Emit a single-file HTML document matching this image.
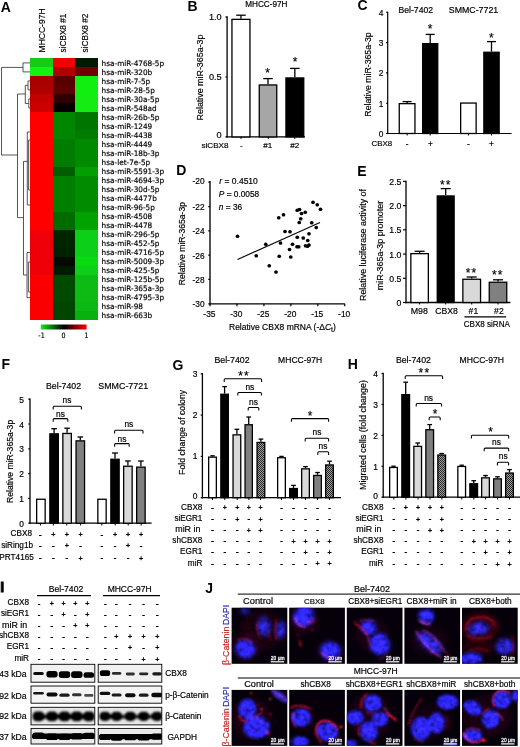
<!DOCTYPE html>
<html lang="en"><head><meta charset="utf-8"><title>Figure: CBX8 regulates miR-365a-3p</title>
<style>html,body{margin:0;padding:0;background:#fff}svg{display:block}text{font-family:"Liberation Sans",sans-serif}</style>
</head><body>
<svg width="520" height="747" viewBox="0 0 520 747">
<defs>
<pattern id="chk" width="2" height="2" patternUnits="userSpaceOnUse"><rect width="2" height="2" fill="#a4a4a4"/><rect width="1" height="1" fill="#222"/><rect x="1" y="1" width="1" height="1" fill="#222"/></pattern>
<linearGradient id="cbar" x1="0" x2="1" y1="0" y2="0"><stop offset="0" stop-color="#18e818"/><stop offset="0.5" stop-color="#000"/><stop offset="1" stop-color="#ff0000"/></linearGradient>
<filter id="b1" x="-30%" y="-30%" width="160%" height="160%"><feGaussianBlur stdDeviation="0.9"/></filter>
<filter id="b15" x="-30%" y="-30%" width="160%" height="160%"><feGaussianBlur stdDeviation="1.5"/></filter>
<filter id="b2" x="-30%" y="-30%" width="160%" height="160%"><feGaussianBlur stdDeviation="2.2"/></filter>
<filter id="b07" x="-30%" y="-30%" width="160%" height="160%"><feGaussianBlur stdDeviation="0.7"/></filter>
<filter id="b06" x="-30%" y="-30%" width="160%" height="160%"><feGaussianBlur stdDeviation="0.6"/></filter>
</defs>
<rect width="520" height="747" fill="#fff"/>
<text font-size="14.00" text-anchor="start" font-weight="bold" transform="translate(0.80 6.80) scale(1.000 1)" y="4.97">A</text>
<g shape-rendering="crispEdges">
<rect x="30.30" y="58.40" width="22.70" height="9.21" fill="#16cc16" />
<rect x="52.80" y="58.40" width="22.70" height="9.21" fill="#f00000" />
<rect x="75.30" y="58.40" width="22.70" height="9.21" fill="#001a00" />
<rect x="30.30" y="67.41" width="22.70" height="9.21" fill="#10f410" />
<rect x="52.80" y="67.41" width="22.70" height="9.21" fill="#b00000" />
<rect x="75.30" y="67.41" width="22.70" height="9.21" fill="#700000" />
<rect x="30.30" y="76.42" width="22.70" height="9.21" fill="#a80000" />
<rect x="52.80" y="76.42" width="22.70" height="9.21" fill="#580000" />
<rect x="75.30" y="76.42" width="22.70" height="9.21" fill="#10f010" />
<rect x="30.30" y="85.43" width="22.70" height="9.21" fill="#ac0000" />
<rect x="52.80" y="85.43" width="22.70" height="9.21" fill="#5e0000" />
<rect x="75.30" y="85.43" width="22.70" height="9.21" fill="#10f010" />
<rect x="30.30" y="94.44" width="22.70" height="9.21" fill="#c40000" />
<rect x="52.80" y="94.44" width="22.70" height="9.21" fill="#2c0000" />
<rect x="75.30" y="94.44" width="22.70" height="9.21" fill="#14ec14" />
<rect x="30.30" y="103.45" width="22.70" height="9.21" fill="#cc0000" />
<rect x="52.80" y="103.45" width="22.70" height="9.21" fill="#060000" />
<rect x="75.30" y="103.45" width="22.70" height="9.21" fill="#14ec14" />
<rect x="30.30" y="112.46" width="22.70" height="9.21" fill="#ff0000" />
<rect x="52.80" y="112.46" width="22.70" height="9.21" fill="#008600" />
<rect x="75.30" y="112.46" width="22.70" height="9.21" fill="#007600" />
<rect x="30.30" y="121.47" width="22.70" height="9.21" fill="#ff0000" />
<rect x="52.80" y="121.47" width="22.70" height="9.21" fill="#008600" />
<rect x="75.30" y="121.47" width="22.70" height="9.21" fill="#007600" />
<rect x="30.30" y="130.48" width="22.70" height="9.21" fill="#ff0000" />
<rect x="52.80" y="130.48" width="22.70" height="9.21" fill="#008600" />
<rect x="75.30" y="130.48" width="22.70" height="9.21" fill="#007c00" />
<rect x="30.30" y="139.49" width="22.70" height="9.21" fill="#ff0000" />
<rect x="52.80" y="139.49" width="22.70" height="9.21" fill="#007c00" />
<rect x="75.30" y="139.49" width="22.70" height="9.21" fill="#008a00" />
<rect x="30.30" y="148.50" width="22.70" height="9.21" fill="#ff0000" />
<rect x="52.80" y="148.50" width="22.70" height="9.21" fill="#007c00" />
<rect x="75.30" y="148.50" width="22.70" height="9.21" fill="#008a00" />
<rect x="30.30" y="157.51" width="22.70" height="9.21" fill="#ff0000" />
<rect x="52.80" y="157.51" width="22.70" height="9.21" fill="#007c00" />
<rect x="75.30" y="157.51" width="22.70" height="9.21" fill="#008a00" />
<rect x="30.30" y="166.52" width="22.70" height="9.21" fill="#ff0000" />
<rect x="52.80" y="166.52" width="22.70" height="9.21" fill="#005e00" />
<rect x="75.30" y="166.52" width="22.70" height="9.21" fill="#00a000" />
<rect x="30.30" y="175.53" width="22.70" height="9.21" fill="#ff0000" />
<rect x="52.80" y="175.53" width="22.70" height="9.21" fill="#007e00" />
<rect x="75.30" y="175.53" width="22.70" height="9.21" fill="#008c00" />
<rect x="30.30" y="184.54" width="22.70" height="9.21" fill="#ff0000" />
<rect x="52.80" y="184.54" width="22.70" height="9.21" fill="#007e00" />
<rect x="75.30" y="184.54" width="22.70" height="9.21" fill="#008c00" />
<rect x="30.30" y="193.56" width="22.70" height="9.21" fill="#ff0000" />
<rect x="52.80" y="193.56" width="22.70" height="9.21" fill="#007e00" />
<rect x="75.30" y="193.56" width="22.70" height="9.21" fill="#008c00" />
<rect x="30.30" y="202.57" width="22.70" height="9.21" fill="#ff0000" />
<rect x="52.80" y="202.57" width="22.70" height="9.21" fill="#007e00" />
<rect x="75.30" y="202.57" width="22.70" height="9.21" fill="#008c00" />
<rect x="30.30" y="211.58" width="22.70" height="9.21" fill="#ff0000" />
<rect x="52.80" y="211.58" width="22.70" height="9.21" fill="#006c00" />
<rect x="75.30" y="211.58" width="22.70" height="9.21" fill="#00a200" />
<rect x="30.30" y="220.59" width="22.70" height="9.21" fill="#ff0000" />
<rect x="52.80" y="220.59" width="22.70" height="9.21" fill="#006c00" />
<rect x="75.30" y="220.59" width="22.70" height="9.21" fill="#00a200" />
<rect x="30.30" y="229.60" width="22.70" height="9.21" fill="#ef0008" />
<rect x="52.80" y="229.60" width="22.70" height="9.21" fill="#002600" />
<rect x="75.30" y="229.60" width="22.70" height="9.21" fill="#0cd018" />
<rect x="30.30" y="238.61" width="22.70" height="9.21" fill="#ef0008" />
<rect x="52.80" y="238.61" width="22.70" height="9.21" fill="#002600" />
<rect x="75.30" y="238.61" width="22.70" height="9.21" fill="#0cd018" />
<rect x="30.30" y="247.62" width="22.70" height="9.21" fill="#ef0008" />
<rect x="52.80" y="247.62" width="22.70" height="9.21" fill="#002200" />
<rect x="75.30" y="247.62" width="22.70" height="9.21" fill="#0cd018" />
<rect x="30.30" y="256.63" width="22.70" height="9.21" fill="#ef0008" />
<rect x="52.80" y="256.63" width="22.70" height="9.21" fill="#040a00" />
<rect x="75.30" y="256.63" width="22.70" height="9.21" fill="#08da10" />
<rect x="30.30" y="265.64" width="22.70" height="9.21" fill="#ef0008" />
<rect x="52.80" y="265.64" width="22.70" height="9.21" fill="#001c00" />
<rect x="75.30" y="265.64" width="22.70" height="9.21" fill="#0cd018" />
<rect x="30.30" y="274.65" width="22.70" height="9.21" fill="#fb0000" />
<rect x="52.80" y="274.65" width="22.70" height="9.21" fill="#004a00" />
<rect x="75.30" y="274.65" width="22.70" height="9.21" fill="#0cbc14" />
<rect x="30.30" y="283.66" width="22.70" height="9.21" fill="#fb0000" />
<rect x="52.80" y="283.66" width="22.70" height="9.21" fill="#004a00" />
<rect x="75.30" y="283.66" width="22.70" height="9.21" fill="#0cbc14" />
<rect x="30.30" y="292.67" width="22.70" height="9.21" fill="#fb0000" />
<rect x="52.80" y="292.67" width="22.70" height="9.21" fill="#004a00" />
<rect x="75.30" y="292.67" width="22.70" height="9.21" fill="#0cbc14" />
<rect x="30.30" y="301.68" width="22.70" height="9.21" fill="#fb0000" />
<rect x="52.80" y="301.68" width="22.70" height="9.21" fill="#004600" />
<rect x="75.30" y="301.68" width="22.70" height="9.21" fill="#0cb814" />
<rect x="30.30" y="310.69" width="22.70" height="9.21" fill="#fb0000" />
<rect x="52.80" y="310.69" width="22.70" height="9.21" fill="#004600" />
<rect x="75.30" y="310.69" width="22.70" height="9.21" fill="#08b010" />
</g>
<text font-size="7.50" text-anchor="start" stroke="#000" stroke-width="0.18" style='font-family:"DejaVu Sans", "Liberation Sans", sans-serif' transform="translate(101.60 63.11) scale(0.975 1)" y="2.66">hsa-miR-4768-5p</text>
<text font-size="7.50" text-anchor="start" stroke="#000" stroke-width="0.18" style='font-family:"DejaVu Sans", "Liberation Sans", sans-serif' transform="translate(101.60 72.12) scale(0.975 1)" y="2.66">hsa-miR-320b</text>
<text font-size="7.50" text-anchor="start" stroke="#000" stroke-width="0.18" style='font-family:"DejaVu Sans", "Liberation Sans", sans-serif' transform="translate(101.60 81.13) scale(0.975 1)" y="2.66">hsa-miR-7-5p</text>
<text font-size="7.50" text-anchor="start" stroke="#000" stroke-width="0.18" style='font-family:"DejaVu Sans", "Liberation Sans", sans-serif' transform="translate(101.60 90.14) scale(0.975 1)" y="2.66">hsa-miR-28-5p</text>
<text font-size="7.50" text-anchor="start" stroke="#000" stroke-width="0.18" style='font-family:"DejaVu Sans", "Liberation Sans", sans-serif' transform="translate(101.60 99.15) scale(0.975 1)" y="2.66">hsa-miR-30a-5p</text>
<text font-size="7.50" text-anchor="start" stroke="#000" stroke-width="0.18" style='font-family:"DejaVu Sans", "Liberation Sans", sans-serif' transform="translate(101.60 108.16) scale(0.975 1)" y="2.66">hsa-miR-548ad</text>
<text font-size="7.50" text-anchor="start" stroke="#000" stroke-width="0.18" style='font-family:"DejaVu Sans", "Liberation Sans", sans-serif' transform="translate(101.60 117.17) scale(0.975 1)" y="2.66">hsa-miR-26b-5p</text>
<text font-size="7.50" text-anchor="start" stroke="#000" stroke-width="0.18" style='font-family:"DejaVu Sans", "Liberation Sans", sans-serif' transform="translate(101.60 126.18) scale(0.975 1)" y="2.66">hsa-miR-1249</text>
<text font-size="7.50" text-anchor="start" stroke="#000" stroke-width="0.18" style='font-family:"DejaVu Sans", "Liberation Sans", sans-serif' transform="translate(101.60 135.19) scale(0.975 1)" y="2.66">hsa-miR-4438</text>
<text font-size="7.50" text-anchor="start" stroke="#000" stroke-width="0.18" style='font-family:"DejaVu Sans", "Liberation Sans", sans-serif' transform="translate(101.60 144.20) scale(0.975 1)" y="2.66">hsa-miR-4449</text>
<text font-size="7.50" text-anchor="start" stroke="#000" stroke-width="0.18" style='font-family:"DejaVu Sans", "Liberation Sans", sans-serif' transform="translate(101.60 153.21) scale(0.975 1)" y="2.66">hsa-miR-18b-3p</text>
<text font-size="7.50" text-anchor="start" stroke="#000" stroke-width="0.18" style='font-family:"DejaVu Sans", "Liberation Sans", sans-serif' transform="translate(101.60 162.22) scale(0.975 1)" y="2.66">hsa-let-7e-5p</text>
<text font-size="7.50" text-anchor="start" stroke="#000" stroke-width="0.18" style='font-family:"DejaVu Sans", "Liberation Sans", sans-serif' transform="translate(101.60 171.23) scale(0.975 1)" y="2.66">hsa-miR-5591-3p</text>
<text font-size="7.50" text-anchor="start" stroke="#000" stroke-width="0.18" style='font-family:"DejaVu Sans", "Liberation Sans", sans-serif' transform="translate(101.60 180.24) scale(0.975 1)" y="2.66">hsa-miR-4694-3p</text>
<text font-size="7.50" text-anchor="start" stroke="#000" stroke-width="0.18" style='font-family:"DejaVu Sans", "Liberation Sans", sans-serif' transform="translate(101.60 189.25) scale(0.975 1)" y="2.66">hsa-miR-30d-5p</text>
<text font-size="7.50" text-anchor="start" stroke="#000" stroke-width="0.18" style='font-family:"DejaVu Sans", "Liberation Sans", sans-serif' transform="translate(101.60 198.26) scale(0.975 1)" y="2.66">hsa-miR-4477b</text>
<text font-size="7.50" text-anchor="start" stroke="#000" stroke-width="0.18" style='font-family:"DejaVu Sans", "Liberation Sans", sans-serif' transform="translate(101.60 207.27) scale(0.975 1)" y="2.66">hsa-miR-96-5p</text>
<text font-size="7.50" text-anchor="start" stroke="#000" stroke-width="0.18" style='font-family:"DejaVu Sans", "Liberation Sans", sans-serif' transform="translate(101.60 216.28) scale(0.975 1)" y="2.66">hsa-miR-4508</text>
<text font-size="7.50" text-anchor="start" stroke="#000" stroke-width="0.18" style='font-family:"DejaVu Sans", "Liberation Sans", sans-serif' transform="translate(101.60 225.29) scale(0.975 1)" y="2.66">hsa-miR-4478</text>
<text font-size="7.50" text-anchor="start" stroke="#000" stroke-width="0.18" style='font-family:"DejaVu Sans", "Liberation Sans", sans-serif' transform="translate(101.60 234.30) scale(0.975 1)" y="2.66">hsa-miR-296-5p</text>
<text font-size="7.50" text-anchor="start" stroke="#000" stroke-width="0.18" style='font-family:"DejaVu Sans", "Liberation Sans", sans-serif' transform="translate(101.60 243.31) scale(0.975 1)" y="2.66">hsa-miR-452-5p</text>
<text font-size="7.50" text-anchor="start" stroke="#000" stroke-width="0.18" style='font-family:"DejaVu Sans", "Liberation Sans", sans-serif' transform="translate(101.60 252.32) scale(0.975 1)" y="2.66">hsa-miR-4716-5p</text>
<text font-size="7.50" text-anchor="start" stroke="#000" stroke-width="0.18" style='font-family:"DejaVu Sans", "Liberation Sans", sans-serif' transform="translate(101.60 261.33) scale(0.975 1)" y="2.66">hsa-miR-5009-3p</text>
<text font-size="7.50" text-anchor="start" stroke="#000" stroke-width="0.18" style='font-family:"DejaVu Sans", "Liberation Sans", sans-serif' transform="translate(101.60 270.34) scale(0.975 1)" y="2.66">hsa-miR-425-5p</text>
<text font-size="7.50" text-anchor="start" stroke="#000" stroke-width="0.18" style='font-family:"DejaVu Sans", "Liberation Sans", sans-serif' transform="translate(101.60 279.35) scale(0.975 1)" y="2.66">hsa-miR-125b-5p</text>
<text font-size="7.50" text-anchor="start" stroke="#000" stroke-width="0.18" style='font-family:"DejaVu Sans", "Liberation Sans", sans-serif' transform="translate(101.60 288.36) scale(0.975 1)" y="2.66">hsa-miR-365a-3p</text>
<text font-size="7.50" text-anchor="start" stroke="#000" stroke-width="0.18" style='font-family:"DejaVu Sans", "Liberation Sans", sans-serif' transform="translate(101.60 297.37) scale(0.975 1)" y="2.66">hsa-miR-4795-3p</text>
<text font-size="7.50" text-anchor="start" stroke="#000" stroke-width="0.18" style='font-family:"DejaVu Sans", "Liberation Sans", sans-serif' transform="translate(101.60 306.38) scale(0.975 1)" y="2.66">hsa-miR-98</text>
<text font-size="7.50" text-anchor="start" stroke="#000" stroke-width="0.18" style='font-family:"DejaVu Sans", "Liberation Sans", sans-serif' transform="translate(101.60 315.39) scale(0.975 1)" y="2.66">hsa-miR-663b</text>
<text font-size="8.50" text-anchor="start" stroke="#000" stroke-width="0.18" transform="translate(41.90 52.40) rotate(-90) scale(1.000 1)" y="3.02">MHCC-97H</text>
<text font-size="8.20" text-anchor="start" stroke="#000" stroke-width="0.18" transform="translate(63.00 52.40) rotate(-90) scale(1.000 1)" y="2.91">siCBX8 #1</text>
<text font-size="8.20" text-anchor="start" stroke="#000" stroke-width="0.18" transform="translate(85.30 52.40) rotate(-90) scale(1.000 1)" y="2.91">siCBX8 #2</text>
<rect x="40.80" y="324.50" width="45.80" height="5.00" fill="url(#cbar)" />
<text font-size="7.40" text-anchor="middle" stroke="#000" stroke-width="0.18" style='font-family:"DejaVu Sans", "Liberation Sans", sans-serif' transform="translate(41.50 335.60) scale(0.850 1)" y="2.63">-1</text>
<text font-size="7.40" text-anchor="middle" stroke="#000" stroke-width="0.18" style='font-family:"DejaVu Sans", "Liberation Sans", sans-serif' transform="translate(63.50 335.60) scale(0.850 1)" y="2.63">0</text>
<text font-size="7.40" text-anchor="middle" stroke="#000" stroke-width="0.18" style='font-family:"DejaVu Sans", "Liberation Sans", sans-serif' transform="translate(86.50 335.60) scale(0.850 1)" y="2.63">1</text>
<path d="M30 62.9 H23 V71.9 H30 M23 67.4 H1.5 V155 H17.5 M30 80.9 H28 V89.9 H30 M30 98.9 H28.8 V108.0 H30 M28 85.4 H25.3 V103.5 H28.8 M25.3 94 H17.5 V217.6 H23.5 M23.5 161.4 V275 M23.5 161.4 H27.3 M27.3 132 V205 M27.3 132 H30 M27.3 205 H30 M28.6 140 V190 M28.6 140 H30 M28.6 190 H30 M23.5 275 H27 M27 252.5 V297.6 M27 252.5 H30 M27 297.6 H30 M28.4 262 V292 M28.4 262 H30 M28.4 292 H30" fill="none" stroke="#383838" stroke-width="0.85"/>
<text font-size="14.00" text-anchor="start" font-weight="bold" transform="translate(187.50 6.30) scale(1.000 1)" y="4.97">B</text>
<text font-size="8.20" text-anchor="middle" stroke="#000" stroke-width="0.18" transform="translate(266.30 4.00) scale(1.000 1)" y="2.91">MHCC-97H</text>
<line x1="227.10" y1="16.35" x2="227.10" y2="137.55" stroke="#000" stroke-width="1.3" />
<line x1="226.45" y1="136.90" x2="305.00" y2="136.90" stroke="#000" stroke-width="1.3" />
<line x1="225.40" y1="17.00" x2="227.10" y2="17.00" stroke="#000" stroke-width="1.1700000000000002" />
<text font-size="9.20" text-anchor="end" stroke="#000" stroke-width="0.18" transform="translate(221.70 16.70) scale(1.000 1)" y="3.27">1.0</text>
<line x1="225.40" y1="77.00" x2="227.10" y2="77.00" stroke="#000" stroke-width="1.1700000000000002" />
<text font-size="9.20" text-anchor="end" stroke="#000" stroke-width="0.18" transform="translate(221.70 76.70) scale(1.000 1)" y="3.27">0.5</text>
<line x1="225.40" y1="136.90" x2="227.10" y2="136.90" stroke="#000" stroke-width="1.1700000000000002" />
<text font-size="9.20" text-anchor="end" stroke="#000" stroke-width="0.18" transform="translate(221.70 134.70) scale(1.000 1)" y="3.27">0</text>
<line x1="240.95" y1="18.70" x2="240.95" y2="15.20" stroke="#000" stroke-width="1.3" />
<line x1="236.20" y1="15.20" x2="245.70" y2="15.20" stroke="#000" stroke-width="1.3" />
<rect x="231.95" y="19.35" width="18.00" height="117.55" fill="#fff" stroke="#000" stroke-width="1.3" />
<line x1="268.00" y1="84.30" x2="268.00" y2="78.60" stroke="#000" stroke-width="1.3" />
<line x1="263.20" y1="78.60" x2="272.80" y2="78.60" stroke="#000" stroke-width="1.3" />
<rect x="259.25" y="84.95" width="17.50" height="51.95" fill="#a6a6a6" stroke="#000" stroke-width="1.3" />
<line x1="294.85" y1="77.30" x2="294.85" y2="68.40" stroke="#000" stroke-width="1.3" />
<line x1="290.05" y1="68.40" x2="299.65" y2="68.40" stroke="#000" stroke-width="1.3" />
<rect x="285.95" y="77.95" width="17.80" height="58.95" fill="#000" stroke="#000" stroke-width="1.3" />
<line x1="241.00" y1="136.90" x2="241.00" y2="138.90" stroke="#000" stroke-width="1" />
<line x1="268.30" y1="136.90" x2="268.30" y2="138.90" stroke="#000" stroke-width="1" />
<line x1="294.80" y1="136.90" x2="294.80" y2="138.90" stroke="#000" stroke-width="1" />
<text font-size="12.00" text-anchor="middle" stroke="#000" stroke-width="0.18" transform="translate(267.60 72.54) scale(1.000 1)" y="4.26">*</text>
<text font-size="12.00" text-anchor="middle" stroke="#000" stroke-width="0.18" transform="translate(295.00 61.84) scale(1.000 1)" y="4.26">*</text>
<text font-size="8.90" text-anchor="middle" stroke="#000" stroke-width="0.18" transform="translate(200.20 77.50) rotate(-90) scale(1.000 1)" y="3.16">Relative miR-365a-3p</text>
<text font-size="8.10" text-anchor="end" stroke="#000" stroke-width="0.18" transform="translate(228.50 145.20) scale(1.000 1)" y="2.88">siCBX8</text>
<text font-size="8.10" text-anchor="middle" stroke="#000" stroke-width="0.18" transform="translate(241.30 145.20) scale(1.000 1)" y="2.88">-</text>
<text font-size="8.10" text-anchor="middle" stroke="#000" stroke-width="0.18" transform="translate(267.80 145.20) scale(1.000 1)" y="2.88">#1</text>
<text font-size="8.10" text-anchor="middle" stroke="#000" stroke-width="0.18" transform="translate(294.80 145.20) scale(1.000 1)" y="2.88">#2</text>
<text font-size="14.00" text-anchor="start" font-weight="bold" transform="translate(357.50 5.50) scale(1.000 1)" y="4.97">C</text>
<text font-size="8.65" text-anchor="middle" stroke="#000" stroke-width="0.18" transform="translate(415.80 9.60) scale(1.000 1)" y="3.07">Bel-7402</text>
<text font-size="8.80" text-anchor="middle" stroke="#000" stroke-width="0.18" transform="translate(473.50 9.60) scale(1.000 1)" y="3.12">SMMC-7721</text>
<line x1="387.70" y1="11.70" x2="387.70" y2="134.10" stroke="#000" stroke-width="1.2" />
<line x1="387.10" y1="133.50" x2="511.60" y2="133.50" stroke="#000" stroke-width="1.2" />
<line x1="386.00" y1="12.30" x2="387.70" y2="12.30" stroke="#000" stroke-width="1.08" />
<text font-size="8.40" text-anchor="end" stroke="#000" stroke-width="0.18" transform="translate(383.30 12.90) scale(1.000 1)" y="2.98">4</text>
<line x1="386.00" y1="42.60" x2="387.70" y2="42.60" stroke="#000" stroke-width="1.08" />
<text font-size="8.40" text-anchor="end" stroke="#000" stroke-width="0.18" transform="translate(383.30 43.20) scale(1.000 1)" y="2.98">3</text>
<line x1="386.00" y1="72.90" x2="387.70" y2="72.90" stroke="#000" stroke-width="1.08" />
<text font-size="8.40" text-anchor="end" stroke="#000" stroke-width="0.18" transform="translate(383.30 73.50) scale(1.000 1)" y="2.98">2</text>
<line x1="386.00" y1="103.20" x2="387.70" y2="103.20" stroke="#000" stroke-width="1.08" />
<text font-size="8.40" text-anchor="end" stroke="#000" stroke-width="0.18" transform="translate(383.30 103.80) scale(1.000 1)" y="2.98">1</text>
<line x1="386.00" y1="133.50" x2="387.70" y2="133.50" stroke="#000" stroke-width="1.08" />
<text font-size="8.40" text-anchor="end" stroke="#000" stroke-width="0.18" transform="translate(383.30 134.10) scale(1.000 1)" y="2.98">0</text>
<line x1="407.10" y1="103.00" x2="407.10" y2="101.60" stroke="#000" stroke-width="1.3" />
<line x1="402.60" y1="101.60" x2="411.60" y2="101.60" stroke="#000" stroke-width="1.3" />
<rect x="399.25" y="103.65" width="15.70" height="29.85" fill="#fff" stroke="#000" stroke-width="1.3" />
<line x1="430.20" y1="43.00" x2="430.20" y2="34.40" stroke="#000" stroke-width="1.3" />
<line x1="425.70" y1="34.40" x2="434.70" y2="34.40" stroke="#000" stroke-width="1.3" />
<rect x="422.65" y="43.65" width="15.10" height="89.85" fill="#000" stroke="#000" stroke-width="1.3" />
<rect x="460.65" y="103.05" width="15.50" height="30.45" fill="#fff" stroke="#000" stroke-width="1.3" />
<line x1="491.50" y1="51.60" x2="491.50" y2="41.60" stroke="#000" stroke-width="1.3" />
<line x1="487.00" y1="41.60" x2="496.00" y2="41.60" stroke="#000" stroke-width="1.3" />
<rect x="483.85" y="52.25" width="15.30" height="81.25" fill="#000" stroke="#000" stroke-width="1.3" />
<line x1="407.20" y1="133.50" x2="407.20" y2="135.50" stroke="#000" stroke-width="1" />
<line x1="430.20" y1="133.50" x2="430.20" y2="135.50" stroke="#000" stroke-width="1" />
<line x1="468.40" y1="133.50" x2="468.40" y2="135.50" stroke="#000" stroke-width="1" />
<line x1="491.50" y1="133.50" x2="491.50" y2="135.50" stroke="#000" stroke-width="1" />
<text font-size="12.00" text-anchor="middle" stroke="#000" stroke-width="0.18" transform="translate(430.00 29.14) scale(1.000 1)" y="4.26">*</text>
<text font-size="12.00" text-anchor="middle" stroke="#000" stroke-width="0.18" transform="translate(491.30 37.24) scale(1.000 1)" y="4.26">*</text>
<text font-size="8.73" text-anchor="middle" stroke="#000" stroke-width="0.18" transform="translate(367.60 74.50) rotate(-90) scale(1.000 1)" y="3.10">Relative miR-365a-3p</text>
<text font-size="7.90" text-anchor="end" stroke="#000" stroke-width="0.18" transform="translate(392.20 143.60) scale(1.000 1)" y="2.80">CBX8</text>
<text font-size="8.20" text-anchor="middle" stroke="#000" stroke-width="0.18" transform="translate(407.20 143.60) scale(1.000 1)" y="2.91">-</text>
<text font-size="8.20" text-anchor="middle" stroke="#000" stroke-width="0.18" transform="translate(430.30 143.60) scale(1.000 1)" y="2.91">+</text>
<text font-size="8.20" text-anchor="middle" stroke="#000" stroke-width="0.18" transform="translate(468.40 143.60) scale(1.000 1)" y="2.91">-</text>
<text font-size="8.20" text-anchor="middle" stroke="#000" stroke-width="0.18" transform="translate(491.50 143.60) scale(1.000 1)" y="2.91">+</text>
<text font-size="14.00" text-anchor="start" font-weight="bold" transform="translate(176.30 170.00) scale(1.000 1)" y="4.97">D</text>
<line x1="210.00" y1="180.92" x2="210.00" y2="304.48" stroke="#000" stroke-width="1.35" />
<line x1="209.32" y1="303.80" x2="344.80" y2="303.80" stroke="#000" stroke-width="1.35" />
<line x1="208.30" y1="182.20" x2="210.00" y2="182.20" stroke="#000" stroke-width="1.215" />
<text font-size="8.30" text-anchor="end" stroke="#000" stroke-width="0.18" transform="translate(204.60 181.20) scale(1.000 1)" y="2.95">-20</text>
<line x1="208.30" y1="206.52" x2="210.00" y2="206.52" stroke="#000" stroke-width="1.215" />
<text font-size="8.30" text-anchor="end" stroke="#000" stroke-width="0.18" transform="translate(204.60 207.12) scale(1.000 1)" y="2.95">-22</text>
<line x1="208.30" y1="230.84" x2="210.00" y2="230.84" stroke="#000" stroke-width="1.215" />
<text font-size="8.30" text-anchor="end" stroke="#000" stroke-width="0.18" transform="translate(204.60 231.44) scale(1.000 1)" y="2.95">-24</text>
<line x1="208.30" y1="255.16" x2="210.00" y2="255.16" stroke="#000" stroke-width="1.215" />
<text font-size="8.30" text-anchor="end" stroke="#000" stroke-width="0.18" transform="translate(204.60 255.56) scale(1.000 1)" y="2.95">-26</text>
<line x1="208.30" y1="279.48" x2="210.00" y2="279.48" stroke="#000" stroke-width="1.215" />
<text font-size="8.30" text-anchor="end" stroke="#000" stroke-width="0.18" transform="translate(204.60 279.78) scale(1.000 1)" y="2.95">-28</text>
<line x1="208.30" y1="303.80" x2="210.00" y2="303.80" stroke="#000" stroke-width="1.215" />
<text font-size="8.30" text-anchor="end" stroke="#000" stroke-width="0.18" transform="translate(204.60 304.20) scale(1.000 1)" y="2.95">-30</text>
<line x1="210.00" y1="303.80" x2="210.00" y2="306.20" stroke="#000" stroke-width="1.2" />
<text font-size="8.40" text-anchor="middle" stroke="#000" stroke-width="0.18" transform="translate(209.40 313.80) scale(1.000 1)" y="2.98">-35</text>
<line x1="236.95" y1="303.80" x2="236.95" y2="306.20" stroke="#000" stroke-width="1.2" />
<text font-size="8.40" text-anchor="middle" stroke="#000" stroke-width="0.18" transform="translate(236.35 313.80) scale(1.000 1)" y="2.98">-30</text>
<line x1="263.90" y1="303.80" x2="263.90" y2="306.20" stroke="#000" stroke-width="1.2" />
<text font-size="8.40" text-anchor="middle" stroke="#000" stroke-width="0.18" transform="translate(263.30 313.80) scale(1.000 1)" y="2.98">-25</text>
<line x1="290.85" y1="303.80" x2="290.85" y2="306.20" stroke="#000" stroke-width="1.2" />
<text font-size="8.40" text-anchor="middle" stroke="#000" stroke-width="0.18" transform="translate(290.25 313.80) scale(1.000 1)" y="2.98">-20</text>
<line x1="317.80" y1="303.80" x2="317.80" y2="306.20" stroke="#000" stroke-width="1.2" />
<text font-size="8.40" text-anchor="middle" stroke="#000" stroke-width="0.18" transform="translate(317.20 313.80) scale(1.000 1)" y="2.98">-15</text>
<line x1="344.75" y1="303.80" x2="344.75" y2="306.20" stroke="#000" stroke-width="1.2" />
<text font-size="8.40" text-anchor="middle" stroke="#000" stroke-width="0.18" transform="translate(344.15 313.80) scale(1.000 1)" y="2.98">-10</text>
<circle cx="237.50" cy="236.25" r="1.85" fill="#000"/>
<circle cx="256.25" cy="255.75" r="1.85" fill="#000"/>
<circle cx="265.75" cy="244.25" r="1.85" fill="#000"/>
<circle cx="269.25" cy="265.75" r="1.85" fill="#000"/>
<circle cx="276.00" cy="272.00" r="1.85" fill="#000"/>
<circle cx="278.75" cy="217.75" r="1.85" fill="#000"/>
<circle cx="279.25" cy="256.25" r="1.85" fill="#000"/>
<circle cx="280.50" cy="243.00" r="1.85" fill="#000"/>
<circle cx="283.50" cy="214.75" r="1.85" fill="#000"/>
<circle cx="285.00" cy="231.50" r="1.85" fill="#000"/>
<circle cx="289.50" cy="249.50" r="1.85" fill="#000"/>
<circle cx="290.00" cy="231.75" r="1.85" fill="#000"/>
<circle cx="290.75" cy="257.00" r="1.85" fill="#000"/>
<circle cx="292.50" cy="244.25" r="1.85" fill="#000"/>
<circle cx="297.00" cy="246.75" r="1.85" fill="#000"/>
<circle cx="298.75" cy="246.75" r="1.85" fill="#000"/>
<circle cx="297.25" cy="237.25" r="1.85" fill="#000"/>
<circle cx="297.25" cy="210.25" r="1.85" fill="#000"/>
<circle cx="299.50" cy="209.50" r="1.85" fill="#000"/>
<circle cx="299.25" cy="222.50" r="1.85" fill="#000"/>
<circle cx="300.75" cy="218.75" r="1.85" fill="#000"/>
<circle cx="301.50" cy="213.50" r="1.85" fill="#000"/>
<circle cx="303.25" cy="238.00" r="1.85" fill="#000"/>
<circle cx="305.25" cy="212.25" r="1.85" fill="#000"/>
<circle cx="305.50" cy="245.75" r="1.85" fill="#000"/>
<circle cx="307.50" cy="246.25" r="1.85" fill="#000"/>
<circle cx="309.00" cy="245.00" r="1.85" fill="#000"/>
<circle cx="307.75" cy="240.50" r="1.85" fill="#000"/>
<circle cx="309.00" cy="233.75" r="1.85" fill="#000"/>
<circle cx="311.75" cy="222.75" r="1.85" fill="#000"/>
<circle cx="313.00" cy="202.25" r="1.85" fill="#000"/>
<circle cx="316.25" cy="227.50" r="1.85" fill="#000"/>
<circle cx="317.25" cy="204.75" r="1.85" fill="#000"/>
<circle cx="320.50" cy="209.25" r="1.85" fill="#000"/>
<line x1="237.50" y1="259.50" x2="320.00" y2="222.50" stroke="#000" stroke-width="1.1" />
<text font-size="8.50" text-anchor="start" stroke="#000" stroke-width="0.18" transform="translate(219.30 181.00) scale(1.000 1)" y="3.02"><tspan font-style="italic">r</tspan> = 0.4510</text>
<text font-size="8.30" text-anchor="start" stroke="#000" stroke-width="0.18" transform="translate(218.80 194.00) scale(1.000 1)" y="2.95"><tspan font-style="italic">P</tspan> = 0.0058</text>
<text font-size="8.30" text-anchor="start" stroke="#000" stroke-width="0.18" transform="translate(218.80 206.80) scale(1.000 1)" y="2.95"><tspan font-style="italic">n</tspan> = 36</text>
<text font-size="8.60" text-anchor="middle" stroke="#000" stroke-width="0.18" transform="translate(181.70 243.60) rotate(-90) scale(1.000 1)" y="3.05">Relative miR-365a-3p</text>
<text font-size="8.50" text-anchor="start" stroke="#000" stroke-width="0.18" transform="translate(229.00 327.20) scale(1.000 1)" y="3.02">Relative CBX8 mRNA (-Δ<tspan font-style="italic">C</tspan><tspan font-size="7" dy="1.8">t</tspan><tspan dy="-1.8">)</tspan></text>
<text font-size="14.00" text-anchor="start" font-weight="bold" transform="translate(357.20 170.60) scale(1.000 1)" y="4.97">E</text>
<line x1="406.00" y1="180.75" x2="406.00" y2="303.15" stroke="#000" stroke-width="1.3" />
<line x1="405.35" y1="302.50" x2="510.40" y2="302.50" stroke="#000" stroke-width="1.3" />
<line x1="403.00" y1="181.40" x2="406.00" y2="181.40" stroke="#000" stroke-width="1.1700000000000002" />
<text font-size="8.70" text-anchor="end" stroke="#000" stroke-width="0.18" transform="translate(401.40 181.90) scale(1.000 1)" y="3.09">2.5</text>
<line x1="403.00" y1="205.62" x2="406.00" y2="205.62" stroke="#000" stroke-width="1.1700000000000002" />
<text font-size="8.70" text-anchor="end" stroke="#000" stroke-width="0.18" transform="translate(401.40 206.12) scale(1.000 1)" y="3.09">2.0</text>
<line x1="403.00" y1="229.84" x2="406.00" y2="229.84" stroke="#000" stroke-width="1.1700000000000002" />
<text font-size="8.70" text-anchor="end" stroke="#000" stroke-width="0.18" transform="translate(401.40 230.34) scale(1.000 1)" y="3.09">1.5</text>
<line x1="403.00" y1="254.06" x2="406.00" y2="254.06" stroke="#000" stroke-width="1.1700000000000002" />
<text font-size="8.70" text-anchor="end" stroke="#000" stroke-width="0.18" transform="translate(401.40 254.56) scale(1.000 1)" y="3.09">1.0</text>
<line x1="403.00" y1="278.28" x2="406.00" y2="278.28" stroke="#000" stroke-width="1.1700000000000002" />
<text font-size="8.70" text-anchor="end" stroke="#000" stroke-width="0.18" transform="translate(401.40 278.78) scale(1.000 1)" y="3.09">0.5</text>
<line x1="403.00" y1="302.50" x2="406.00" y2="302.50" stroke="#000" stroke-width="1.1700000000000002" />
<text font-size="8.70" text-anchor="end" stroke="#000" stroke-width="0.18" transform="translate(401.40 303.00) scale(1.000 1)" y="3.09">0</text>
<line x1="419.60" y1="253.00" x2="419.60" y2="251.30" stroke="#000" stroke-width="1.3" />
<line x1="414.60" y1="251.30" x2="424.60" y2="251.30" stroke="#000" stroke-width="1.3" />
<rect x="410.85" y="253.65" width="17.50" height="48.85" fill="#fff" stroke="#000" stroke-width="1.3" />
<line x1="445.70" y1="195.30" x2="445.70" y2="188.60" stroke="#000" stroke-width="1.3" />
<line x1="440.70" y1="188.60" x2="450.70" y2="188.60" stroke="#000" stroke-width="1.3" />
<rect x="437.25" y="195.95" width="16.90" height="106.55" fill="#000" stroke="#000" stroke-width="1.3" />
<line x1="471.70" y1="278.60" x2="471.70" y2="277.00" stroke="#000" stroke-width="1.3" />
<line x1="466.70" y1="277.00" x2="476.70" y2="277.00" stroke="#000" stroke-width="1.3" />
<rect x="462.85" y="279.25" width="17.70" height="23.25" fill="#d9d9d9" stroke="#000" stroke-width="1.3" />
<line x1="498.00" y1="281.60" x2="498.00" y2="279.80" stroke="#000" stroke-width="1.3" />
<line x1="493.00" y1="279.80" x2="503.00" y2="279.80" stroke="#000" stroke-width="1.3" />
<rect x="489.25" y="282.25" width="17.50" height="20.25" fill="#808080" stroke="#000" stroke-width="1.3" />
<line x1="419.60" y1="302.50" x2="419.60" y2="304.50" stroke="#000" stroke-width="1" />
<line x1="445.70" y1="302.50" x2="445.70" y2="304.50" stroke="#000" stroke-width="1" />
<line x1="471.70" y1="302.50" x2="471.70" y2="304.50" stroke="#000" stroke-width="1" />
<line x1="498.00" y1="302.50" x2="498.00" y2="304.50" stroke="#000" stroke-width="1" />
<text font-size="12.00" text-anchor="middle" stroke="#000" stroke-width="0.18" letter-spacing="1.2" transform="translate(445.80 185.20) scale(1.000 1)" y="4.26">**</text>
<text font-size="12.00" text-anchor="middle" stroke="#000" stroke-width="0.18" letter-spacing="1.2" transform="translate(471.60 272.40) scale(1.000 1)" y="4.26">**</text>
<text font-size="12.00" text-anchor="middle" stroke="#000" stroke-width="0.18" letter-spacing="1.2" transform="translate(497.80 274.40) scale(1.000 1)" y="4.26">**</text>
<text font-size="8.90" text-anchor="middle" stroke="#000" stroke-width="0.18" transform="translate(419.30 311.00) scale(1.000 1)" y="3.16">M98</text>
<text font-size="8.70" text-anchor="middle" stroke="#000" stroke-width="0.18" transform="translate(446.60 311.00) scale(1.000 1)" y="3.09">CBX8</text>
<text font-size="8.60" text-anchor="middle" stroke="#000" stroke-width="0.18" transform="translate(473.40 311.00) scale(1.000 1)" y="3.05">#1</text>
<text font-size="8.60" text-anchor="middle" stroke="#000" stroke-width="0.18" transform="translate(498.90 311.00) scale(1.000 1)" y="3.05">#2</text>
<line x1="464.40" y1="316.80" x2="506.20" y2="316.80" stroke="#000" stroke-width="1.3" />
<text font-size="9.07" text-anchor="middle" stroke="#000" stroke-width="0.18" transform="translate(486.80 324.00) scale(0.893 1)" y="3.22">CBX8 siRNA</text>
<text font-size="8.88" text-anchor="middle" stroke="#000" stroke-width="0.18" transform="translate(362.90 245.00) rotate(-90) scale(1.000 1)" y="3.15">Relative luciferase activity of</text>
<text font-size="8.90" text-anchor="middle" stroke="#000" stroke-width="0.18" transform="translate(379.40 245.50) rotate(-90) scale(1.000 1)" y="3.16">miR-365a-3p promoter</text>
<text font-size="14.00" text-anchor="start" font-weight="bold" transform="translate(1.50 364.50) scale(1.000 1)" y="4.97">F</text>
<text font-size="8.75" text-anchor="middle" stroke="#000" stroke-width="0.18" transform="translate(63.50 385.40) scale(1.000 1)" y="3.11">Bel-7402</text>
<text font-size="8.90" text-anchor="middle" stroke="#000" stroke-width="0.18" transform="translate(123.20 385.40) scale(1.000 1)" y="3.16">SMMC-7721</text>
<line x1="30.00" y1="398.55" x2="30.00" y2="523.85" stroke="#000" stroke-width="1.3" />
<line x1="29.35" y1="523.20" x2="151.60" y2="523.20" stroke="#000" stroke-width="1.3" />
<line x1="28.30" y1="399.20" x2="30.00" y2="399.20" stroke="#000" stroke-width="1.1700000000000002" />
<text font-size="8.40" text-anchor="end" stroke="#000" stroke-width="0.18" transform="translate(24.00 399.80) scale(1.000 1)" y="2.98">5</text>
<line x1="28.30" y1="424.00" x2="30.00" y2="424.00" stroke="#000" stroke-width="1.1700000000000002" />
<text font-size="8.40" text-anchor="end" stroke="#000" stroke-width="0.18" transform="translate(24.00 424.60) scale(1.000 1)" y="2.98">4</text>
<line x1="28.30" y1="448.80" x2="30.00" y2="448.80" stroke="#000" stroke-width="1.1700000000000002" />
<text font-size="8.40" text-anchor="end" stroke="#000" stroke-width="0.18" transform="translate(24.00 449.40) scale(1.000 1)" y="2.98">3</text>
<line x1="28.30" y1="473.60" x2="30.00" y2="473.60" stroke="#000" stroke-width="1.1700000000000002" />
<text font-size="8.40" text-anchor="end" stroke="#000" stroke-width="0.18" transform="translate(24.00 474.20) scale(1.000 1)" y="2.98">2</text>
<line x1="28.30" y1="498.40" x2="30.00" y2="498.40" stroke="#000" stroke-width="1.1700000000000002" />
<text font-size="8.40" text-anchor="end" stroke="#000" stroke-width="0.18" transform="translate(24.00 499.00) scale(1.000 1)" y="2.98">1</text>
<line x1="28.30" y1="523.20" x2="30.00" y2="523.20" stroke="#000" stroke-width="1.1700000000000002" />
<text font-size="8.40" text-anchor="end" stroke="#000" stroke-width="0.18" transform="translate(24.00 523.80) scale(1.000 1)" y="2.98">0</text>
<rect x="36.65" y="499.25" width="8.50" height="23.95" fill="#fff" stroke="#000" stroke-width="1.3" />
<line x1="54.10" y1="433.20" x2="54.10" y2="428.70" stroke="#000" stroke-width="1.3" />
<line x1="51.30" y1="428.70" x2="56.90" y2="428.70" stroke="#000" stroke-width="1.3" />
<rect x="49.85" y="433.85" width="8.50" height="89.35" fill="#000" stroke="#000" stroke-width="1.3" />
<line x1="67.10" y1="432.80" x2="67.10" y2="428.20" stroke="#000" stroke-width="1.3" />
<line x1="64.30" y1="428.20" x2="69.90" y2="428.20" stroke="#000" stroke-width="1.3" />
<rect x="62.85" y="433.45" width="8.50" height="89.75" fill="#d9d9d9" stroke="#000" stroke-width="1.3" />
<line x1="80.30" y1="440.20" x2="80.30" y2="437.00" stroke="#000" stroke-width="1.3" />
<line x1="77.50" y1="437.00" x2="83.10" y2="437.00" stroke="#000" stroke-width="1.3" />
<rect x="76.05" y="440.85" width="8.50" height="82.35" fill="#808080" stroke="#000" stroke-width="1.3" />
<rect x="97.85" y="499.25" width="8.30" height="23.95" fill="#fff" stroke="#000" stroke-width="1.3" />
<line x1="115.00" y1="458.60" x2="115.00" y2="453.00" stroke="#000" stroke-width="1.3" />
<line x1="112.00" y1="453.00" x2="118.00" y2="453.00" stroke="#000" stroke-width="1.3" />
<rect x="110.85" y="459.25" width="8.30" height="63.95" fill="#000" stroke="#000" stroke-width="1.3" />
<line x1="127.90" y1="465.60" x2="127.90" y2="461.00" stroke="#000" stroke-width="1.3" />
<line x1="125.10" y1="461.00" x2="130.70" y2="461.00" stroke="#000" stroke-width="1.3" />
<rect x="123.65" y="466.25" width="8.50" height="56.95" fill="#d9d9d9" stroke="#000" stroke-width="1.3" />
<line x1="140.90" y1="466.50" x2="140.90" y2="461.00" stroke="#000" stroke-width="1.3" />
<line x1="138.10" y1="461.00" x2="143.70" y2="461.00" stroke="#000" stroke-width="1.3" />
<rect x="136.65" y="467.15" width="8.50" height="56.05" fill="#808080" stroke="#000" stroke-width="1.3" />
<path d="M53.20 421.80 V419.60 Q53.20 418.60 54.20 418.60 H66.80 Q67.80 418.60 67.80 419.60 V421.80" fill="none" stroke="#000" stroke-width="1.05"/>
<text font-size="8.40" text-anchor="middle" stroke="#000" stroke-width="0.18" transform="translate(60.50 414.00) scale(1.000 1)" y="2.98">ns</text>
<path d="M53.20 409.40 V407.20 Q53.20 406.20 54.20 406.20 H80.40 Q81.40 406.20 81.40 407.20 V409.40" fill="none" stroke="#000" stroke-width="1.05"/>
<text font-size="8.40" text-anchor="middle" stroke="#000" stroke-width="0.18" transform="translate(67.00 399.60) scale(1.000 1)" y="2.98">ns</text>
<path d="M114.60 446.80 V444.60 Q114.60 443.60 115.60 443.60 H128.20 Q129.20 443.60 129.20 444.60 V446.80" fill="none" stroke="#000" stroke-width="1.05"/>
<text font-size="8.40" text-anchor="middle" stroke="#000" stroke-width="0.18" transform="translate(122.00 439.20) scale(1.000 1)" y="2.98">ns</text>
<path d="M114.60 433.40 V431.20 Q114.60 430.20 115.60 430.20 H142.00 Q143.00 430.20 143.00 431.20 V433.40" fill="none" stroke="#000" stroke-width="1.05"/>
<text font-size="8.40" text-anchor="middle" stroke="#000" stroke-width="0.18" transform="translate(128.80 424.20) scale(1.000 1)" y="2.98">ns</text>
<text font-size="8.20" text-anchor="end" stroke="#000" stroke-width="0.18" transform="translate(32.00 533.50) scale(1.000 1)" y="2.91">CBX8</text>
<text font-size="8.20" text-anchor="end" stroke="#000" stroke-width="0.18" transform="translate(33.00 544.70) scale(1.000 1)" y="2.91">siRing1b</text>
<text font-size="8.20" text-anchor="end" stroke="#000" stroke-width="0.18" transform="translate(33.80 557.00) scale(1.000 1)" y="2.91">PRT4165</text>
<text font-size="7.98" text-anchor="middle" stroke="#000" stroke-width="0.45" transform="translate(40.40 533.90) scale(1.000 1)" y="2.83">-</text>
<text font-size="7.22" text-anchor="middle" stroke="#000" stroke-width="0.35" transform="translate(53.40 534.65) scale(1.000 1)" y="2.56">+</text>
<text font-size="7.22" text-anchor="middle" stroke="#000" stroke-width="0.35" transform="translate(66.80 534.65) scale(1.000 1)" y="2.56">+</text>
<text font-size="7.22" text-anchor="middle" stroke="#000" stroke-width="0.35" transform="translate(80.60 534.65) scale(1.000 1)" y="2.56">+</text>
<text font-size="7.98" text-anchor="middle" stroke="#000" stroke-width="0.45" transform="translate(101.80 533.90) scale(1.000 1)" y="2.83">-</text>
<text font-size="7.22" text-anchor="middle" stroke="#000" stroke-width="0.35" transform="translate(115.20 534.65) scale(1.000 1)" y="2.56">+</text>
<text font-size="7.22" text-anchor="middle" stroke="#000" stroke-width="0.35" transform="translate(128.20 534.65) scale(1.000 1)" y="2.56">+</text>
<text font-size="7.22" text-anchor="middle" stroke="#000" stroke-width="0.35" transform="translate(141.20 534.65) scale(1.000 1)" y="2.56">+</text>
<text font-size="7.98" text-anchor="middle" stroke="#000" stroke-width="0.45" transform="translate(40.40 545.10) scale(1.000 1)" y="2.83">-</text>
<text font-size="7.98" text-anchor="middle" stroke="#000" stroke-width="0.45" transform="translate(53.40 545.10) scale(1.000 1)" y="2.83">-</text>
<text font-size="7.22" text-anchor="middle" stroke="#000" stroke-width="0.35" transform="translate(66.80 545.85) scale(1.000 1)" y="2.56">+</text>
<text font-size="7.98" text-anchor="middle" stroke="#000" stroke-width="0.45" transform="translate(80.60 545.10) scale(1.000 1)" y="2.83">-</text>
<text font-size="7.98" text-anchor="middle" stroke="#000" stroke-width="0.45" transform="translate(101.80 545.10) scale(1.000 1)" y="2.83">-</text>
<text font-size="7.98" text-anchor="middle" stroke="#000" stroke-width="0.45" transform="translate(115.20 545.10) scale(1.000 1)" y="2.83">-</text>
<text font-size="7.22" text-anchor="middle" stroke="#000" stroke-width="0.35" transform="translate(128.20 545.85) scale(1.000 1)" y="2.56">+</text>
<text font-size="7.98" text-anchor="middle" stroke="#000" stroke-width="0.45" transform="translate(141.20 545.10) scale(1.000 1)" y="2.83">-</text>
<text font-size="7.98" text-anchor="middle" stroke="#000" stroke-width="0.45" transform="translate(40.40 557.40) scale(1.000 1)" y="2.83">-</text>
<text font-size="7.98" text-anchor="middle" stroke="#000" stroke-width="0.45" transform="translate(53.40 557.40) scale(1.000 1)" y="2.83">-</text>
<text font-size="7.98" text-anchor="middle" stroke="#000" stroke-width="0.45" transform="translate(66.80 557.40) scale(1.000 1)" y="2.83">-</text>
<text font-size="7.22" text-anchor="middle" stroke="#000" stroke-width="0.35" transform="translate(80.60 558.15) scale(1.000 1)" y="2.56">+</text>
<text font-size="7.98" text-anchor="middle" stroke="#000" stroke-width="0.45" transform="translate(101.80 557.40) scale(1.000 1)" y="2.83">-</text>
<text font-size="7.98" text-anchor="middle" stroke="#000" stroke-width="0.45" transform="translate(115.20 557.40) scale(1.000 1)" y="2.83">-</text>
<text font-size="7.98" text-anchor="middle" stroke="#000" stroke-width="0.45" transform="translate(128.20 557.40) scale(1.000 1)" y="2.83">-</text>
<text font-size="7.22" text-anchor="middle" stroke="#000" stroke-width="0.35" transform="translate(141.20 558.15) scale(1.000 1)" y="2.56">+</text>
<line x1="40.40" y1="523.20" x2="40.40" y2="525.50" stroke="#000" stroke-width="1.0" />
<line x1="53.40" y1="523.20" x2="53.40" y2="525.50" stroke="#000" stroke-width="1.0" />
<line x1="66.80" y1="523.20" x2="66.80" y2="525.50" stroke="#000" stroke-width="1.0" />
<line x1="80.60" y1="523.20" x2="80.60" y2="525.50" stroke="#000" stroke-width="1.0" />
<line x1="101.80" y1="523.20" x2="101.80" y2="525.50" stroke="#000" stroke-width="1.0" />
<line x1="115.20" y1="523.20" x2="115.20" y2="525.50" stroke="#000" stroke-width="1.0" />
<line x1="128.20" y1="523.20" x2="128.20" y2="525.50" stroke="#000" stroke-width="1.0" />
<line x1="141.20" y1="523.20" x2="141.20" y2="525.50" stroke="#000" stroke-width="1.0" />
<text font-size="8.60" text-anchor="middle" stroke="#000" stroke-width="0.18" transform="translate(9.60 461.40) rotate(-90) scale(1.000 1)" y="3.05">Relative miR-365a-3p</text>
<text font-size="14.00" text-anchor="start" font-weight="bold" transform="translate(172.60 365.00) scale(1.000 1)" y="4.97">G</text>
<text font-size="8.80" text-anchor="middle" stroke="#000" stroke-width="0.18" transform="translate(232.00 360.00) scale(1.000 1)" y="3.12">Bel-7402</text>
<text font-size="8.55" text-anchor="middle" stroke="#000" stroke-width="0.18" transform="translate(300.20 360.00) scale(1.000 1)" y="3.04">MHCC-97H</text>
<line x1="202.40" y1="373.15" x2="202.40" y2="498.35" stroke="#000" stroke-width="1.3" />
<line x1="201.75" y1="497.70" x2="341.00" y2="497.70" stroke="#000" stroke-width="1.3" />
<line x1="200.70" y1="373.80" x2="202.40" y2="373.80" stroke="#000" stroke-width="1.1700000000000002" />
<text font-size="8.40" text-anchor="end" stroke="#000" stroke-width="0.18" transform="translate(197.40 373.80) scale(1.000 1)" y="2.98">3</text>
<line x1="200.70" y1="415.10" x2="202.40" y2="415.10" stroke="#000" stroke-width="1.1700000000000002" />
<text font-size="8.40" text-anchor="end" stroke="#000" stroke-width="0.18" transform="translate(197.40 415.10) scale(1.000 1)" y="2.98">2</text>
<line x1="200.70" y1="456.40" x2="202.40" y2="456.40" stroke="#000" stroke-width="1.1700000000000002" />
<text font-size="8.40" text-anchor="end" stroke="#000" stroke-width="0.18" transform="translate(197.40 456.40) scale(1.000 1)" y="2.98">1</text>
<line x1="200.70" y1="497.70" x2="202.40" y2="497.70" stroke="#000" stroke-width="1.1700000000000002" />
<text font-size="8.40" text-anchor="end" stroke="#000" stroke-width="0.18" transform="translate(197.40 495.70) scale(1.000 1)" y="2.98">0</text>
<line x1="212.50" y1="456.50" x2="212.50" y2="455.80" stroke="#000" stroke-width="1.3" />
<line x1="210.30" y1="455.80" x2="214.70" y2="455.80" stroke="#000" stroke-width="1.3" />
<rect x="208.65" y="457.15" width="7.70" height="40.55" fill="#fff" stroke="#000" stroke-width="1.3" />
<line x1="224.60" y1="393.60" x2="224.60" y2="386.60" stroke="#000" stroke-width="1.3" />
<line x1="222.25" y1="386.60" x2="226.95" y2="386.60" stroke="#000" stroke-width="1.3" />
<rect x="220.85" y="394.25" width="7.50" height="103.45" fill="#000" stroke="#000" stroke-width="1.3" />
<line x1="236.90" y1="434.20" x2="236.90" y2="429.30" stroke="#000" stroke-width="1.3" />
<line x1="234.55" y1="429.30" x2="239.25" y2="429.30" stroke="#000" stroke-width="1.3" />
<rect x="233.05" y="434.85" width="7.70" height="62.85" fill="#d9d9d9" stroke="#000" stroke-width="1.3" />
<line x1="248.70" y1="424.10" x2="248.70" y2="417.00" stroke="#000" stroke-width="1.3" />
<line x1="246.35" y1="417.00" x2="251.05" y2="417.00" stroke="#000" stroke-width="1.3" />
<rect x="245.05" y="424.75" width="7.30" height="72.95" fill="#808080" stroke="#000" stroke-width="1.3" />
<line x1="260.90" y1="441.80" x2="260.90" y2="439.10" stroke="#000" stroke-width="1.3" />
<line x1="258.55" y1="439.10" x2="263.25" y2="439.10" stroke="#000" stroke-width="1.3" />
<rect x="257.05" y="442.45" width="7.70" height="55.25" fill="url(#chk)" stroke="#000" stroke-width="1.3" />
<line x1="281.50" y1="457.10" x2="281.50" y2="456.40" stroke="#000" stroke-width="1.3" />
<line x1="279.30" y1="456.40" x2="283.70" y2="456.40" stroke="#000" stroke-width="1.3" />
<rect x="277.65" y="457.75" width="7.70" height="39.95" fill="#fff" stroke="#000" stroke-width="1.3" />
<line x1="293.50" y1="487.90" x2="293.50" y2="485.40" stroke="#000" stroke-width="1.3" />
<line x1="291.15" y1="485.40" x2="295.85" y2="485.40" stroke="#000" stroke-width="1.3" />
<rect x="289.65" y="488.55" width="7.70" height="9.15" fill="#000" stroke="#000" stroke-width="1.3" />
<line x1="305.50" y1="468.20" x2="305.50" y2="466.60" stroke="#000" stroke-width="1.3" />
<line x1="303.15" y1="466.60" x2="307.85" y2="466.60" stroke="#000" stroke-width="1.3" />
<rect x="301.65" y="468.85" width="7.70" height="28.85" fill="#d9d9d9" stroke="#000" stroke-width="1.3" />
<line x1="317.50" y1="474.80" x2="317.50" y2="472.50" stroke="#000" stroke-width="1.3" />
<line x1="315.15" y1="472.50" x2="319.85" y2="472.50" stroke="#000" stroke-width="1.3" />
<rect x="313.65" y="475.45" width="7.70" height="22.25" fill="#808080" stroke="#000" stroke-width="1.3" />
<line x1="329.50" y1="464.30" x2="329.50" y2="461.20" stroke="#000" stroke-width="1.3" />
<line x1="327.15" y1="461.20" x2="331.85" y2="461.20" stroke="#000" stroke-width="1.3" />
<rect x="325.65" y="464.95" width="7.70" height="32.75" fill="url(#chk)" stroke="#000" stroke-width="1.3" />
<path d="M224.20 382.00 V379.80 Q224.20 378.80 225.20 378.80 H260.60 Q261.60 378.80 261.60 379.80 V382.00" fill="none" stroke="#000" stroke-width="1.05"/>
<text font-size="12.00" text-anchor="middle" stroke="#000" stroke-width="0.18" letter-spacing="1.2" transform="translate(244.00 376.20) scale(1.000 1)" y="4.26">**</text>
<path d="M237.80 395.60 V393.40 Q237.80 392.40 238.80 392.40 H260.40 Q261.40 392.40 261.40 393.40 V395.60" fill="none" stroke="#000" stroke-width="1.05"/>
<text font-size="8.40" text-anchor="middle" stroke="#000" stroke-width="0.18" transform="translate(249.80 386.80) scale(1.000 1)" y="2.98">ns</text>
<path d="M248.20 410.60 V408.40 Q248.20 407.40 249.20 407.40 H257.80 Q258.80 407.40 258.80 408.40 V410.60" fill="none" stroke="#000" stroke-width="1.05"/>
<text font-size="8.40" text-anchor="middle" stroke="#000" stroke-width="0.18" transform="translate(253.40 402.00) scale(1.000 1)" y="2.98">ns</text>
<path d="M291.40 421.80 V419.60 Q291.40 418.60 292.40 418.60 H327.60 Q328.60 418.60 328.60 419.60 V421.80" fill="none" stroke="#000" stroke-width="1.05"/>
<text font-size="12.00" text-anchor="middle" stroke="#000" stroke-width="0.18" transform="translate(310.00 416.00) scale(1.000 1)" y="4.26">*</text>
<path d="M305.20 441.40 V439.20 Q305.20 438.20 306.20 438.20 H327.60 Q328.60 438.20 328.60 439.20 V441.40" fill="none" stroke="#000" stroke-width="1.05"/>
<text font-size="8.40" text-anchor="middle" stroke="#000" stroke-width="0.18" transform="translate(317.00 432.30) scale(1.000 1)" y="2.98">ns</text>
<path d="M317.80 455.00 V452.80 Q317.80 451.80 318.80 451.80 H327.60 Q328.60 451.80 328.60 452.80 V455.00" fill="none" stroke="#000" stroke-width="1.05"/>
<text font-size="8.40" text-anchor="middle" stroke="#000" stroke-width="0.18" transform="translate(323.00 446.00) scale(1.000 1)" y="2.98">ns</text>
<text font-size="8.20" text-anchor="end" stroke="#000" stroke-width="0.18" transform="translate(202.40 506.80) scale(1.000 1)" y="2.91">CBX8</text>
<text font-size="8.15" text-anchor="end" stroke="#000" stroke-width="0.18" transform="translate(202.40 518.00) scale(1.000 1)" y="2.89">siEGR1</text>
<text font-size="8.90" text-anchor="end" stroke="#000" stroke-width="0.18" transform="translate(200.40 529.00) scale(1.000 1)" y="3.16">miR in</text>
<text font-size="8.20" text-anchor="end" stroke="#000" stroke-width="0.18" transform="translate(202.40 540.20) scale(1.000 1)" y="2.91">shCBX8</text>
<text font-size="8.20" text-anchor="end" stroke="#000" stroke-width="0.18" transform="translate(202.40 551.30) scale(1.000 1)" y="2.91">EGR1</text>
<text font-size="8.20" text-anchor="end" stroke="#000" stroke-width="0.18" transform="translate(202.40 562.80) scale(1.000 1)" y="2.91">miR</text>
<text font-size="7.79" text-anchor="middle" stroke="#000" stroke-width="0.45" transform="translate(212.50 507.20) scale(1.000 1)" y="2.77">-</text>
<text font-size="7.05" text-anchor="middle" stroke="#000" stroke-width="0.35" transform="translate(224.80 507.95) scale(1.000 1)" y="2.50">+</text>
<text font-size="7.05" text-anchor="middle" stroke="#000" stroke-width="0.35" transform="translate(237.20 507.95) scale(1.000 1)" y="2.50">+</text>
<text font-size="7.05" text-anchor="middle" stroke="#000" stroke-width="0.35" transform="translate(248.90 507.95) scale(1.000 1)" y="2.50">+</text>
<text font-size="7.05" text-anchor="middle" stroke="#000" stroke-width="0.35" transform="translate(260.60 507.95) scale(1.000 1)" y="2.50">+</text>
<text font-size="7.79" text-anchor="middle" stroke="#000" stroke-width="0.45" transform="translate(281.50 507.20) scale(1.000 1)" y="2.77">-</text>
<text font-size="7.79" text-anchor="middle" stroke="#000" stroke-width="0.45" transform="translate(293.50 507.20) scale(1.000 1)" y="2.77">-</text>
<text font-size="7.79" text-anchor="middle" stroke="#000" stroke-width="0.45" transform="translate(305.50 507.20) scale(1.000 1)" y="2.77">-</text>
<text font-size="7.79" text-anchor="middle" stroke="#000" stroke-width="0.45" transform="translate(317.50 507.20) scale(1.000 1)" y="2.77">-</text>
<text font-size="7.79" text-anchor="middle" stroke="#000" stroke-width="0.45" transform="translate(329.50 507.20) scale(1.000 1)" y="2.77">-</text>
<text font-size="7.79" text-anchor="middle" stroke="#000" stroke-width="0.45" transform="translate(212.50 518.40) scale(1.000 1)" y="2.77">-</text>
<text font-size="7.79" text-anchor="middle" stroke="#000" stroke-width="0.45" transform="translate(224.80 518.40) scale(1.000 1)" y="2.77">-</text>
<text font-size="7.05" text-anchor="middle" stroke="#000" stroke-width="0.35" transform="translate(237.20 519.15) scale(1.000 1)" y="2.50">+</text>
<text font-size="7.79" text-anchor="middle" stroke="#000" stroke-width="0.45" transform="translate(248.90 518.40) scale(1.000 1)" y="2.77">-</text>
<text font-size="7.05" text-anchor="middle" stroke="#000" stroke-width="0.35" transform="translate(260.60 519.15) scale(1.000 1)" y="2.50">+</text>
<text font-size="7.79" text-anchor="middle" stroke="#000" stroke-width="0.45" transform="translate(281.50 518.40) scale(1.000 1)" y="2.77">-</text>
<text font-size="7.79" text-anchor="middle" stroke="#000" stroke-width="0.45" transform="translate(293.50 518.40) scale(1.000 1)" y="2.77">-</text>
<text font-size="7.79" text-anchor="middle" stroke="#000" stroke-width="0.45" transform="translate(305.50 518.40) scale(1.000 1)" y="2.77">-</text>
<text font-size="7.79" text-anchor="middle" stroke="#000" stroke-width="0.45" transform="translate(317.50 518.40) scale(1.000 1)" y="2.77">-</text>
<text font-size="7.79" text-anchor="middle" stroke="#000" stroke-width="0.45" transform="translate(329.50 518.40) scale(1.000 1)" y="2.77">-</text>
<text font-size="7.79" text-anchor="middle" stroke="#000" stroke-width="0.45" transform="translate(212.50 529.40) scale(1.000 1)" y="2.77">-</text>
<text font-size="7.79" text-anchor="middle" stroke="#000" stroke-width="0.45" transform="translate(224.80 529.40) scale(1.000 1)" y="2.77">-</text>
<text font-size="7.79" text-anchor="middle" stroke="#000" stroke-width="0.45" transform="translate(237.20 529.40) scale(1.000 1)" y="2.77">-</text>
<text font-size="7.05" text-anchor="middle" stroke="#000" stroke-width="0.35" transform="translate(248.90 530.15) scale(1.000 1)" y="2.50">+</text>
<text font-size="7.05" text-anchor="middle" stroke="#000" stroke-width="0.35" transform="translate(260.60 530.15) scale(1.000 1)" y="2.50">+</text>
<text font-size="7.79" text-anchor="middle" stroke="#000" stroke-width="0.45" transform="translate(281.50 529.40) scale(1.000 1)" y="2.77">-</text>
<text font-size="7.79" text-anchor="middle" stroke="#000" stroke-width="0.45" transform="translate(293.50 529.40) scale(1.000 1)" y="2.77">-</text>
<text font-size="7.79" text-anchor="middle" stroke="#000" stroke-width="0.45" transform="translate(305.50 529.40) scale(1.000 1)" y="2.77">-</text>
<text font-size="7.79" text-anchor="middle" stroke="#000" stroke-width="0.45" transform="translate(317.50 529.40) scale(1.000 1)" y="2.77">-</text>
<text font-size="7.79" text-anchor="middle" stroke="#000" stroke-width="0.45" transform="translate(329.50 529.40) scale(1.000 1)" y="2.77">-</text>
<text font-size="7.79" text-anchor="middle" stroke="#000" stroke-width="0.45" transform="translate(212.50 540.60) scale(1.000 1)" y="2.77">-</text>
<text font-size="7.79" text-anchor="middle" stroke="#000" stroke-width="0.45" transform="translate(224.80 540.60) scale(1.000 1)" y="2.77">-</text>
<text font-size="7.79" text-anchor="middle" stroke="#000" stroke-width="0.45" transform="translate(237.20 540.60) scale(1.000 1)" y="2.77">-</text>
<text font-size="7.79" text-anchor="middle" stroke="#000" stroke-width="0.45" transform="translate(248.90 540.60) scale(1.000 1)" y="2.77">-</text>
<text font-size="7.79" text-anchor="middle" stroke="#000" stroke-width="0.45" transform="translate(260.60 540.60) scale(1.000 1)" y="2.77">-</text>
<text font-size="7.79" text-anchor="middle" stroke="#000" stroke-width="0.45" transform="translate(281.50 540.60) scale(1.000 1)" y="2.77">-</text>
<text font-size="7.05" text-anchor="middle" stroke="#000" stroke-width="0.35" transform="translate(293.50 541.35) scale(1.000 1)" y="2.50">+</text>
<text font-size="7.05" text-anchor="middle" stroke="#000" stroke-width="0.35" transform="translate(305.50 541.35) scale(1.000 1)" y="2.50">+</text>
<text font-size="7.05" text-anchor="middle" stroke="#000" stroke-width="0.35" transform="translate(317.50 541.35) scale(1.000 1)" y="2.50">+</text>
<text font-size="7.05" text-anchor="middle" stroke="#000" stroke-width="0.35" transform="translate(329.50 541.35) scale(1.000 1)" y="2.50">+</text>
<text font-size="7.79" text-anchor="middle" stroke="#000" stroke-width="0.45" transform="translate(212.50 551.70) scale(1.000 1)" y="2.77">-</text>
<text font-size="7.79" text-anchor="middle" stroke="#000" stroke-width="0.45" transform="translate(224.80 551.70) scale(1.000 1)" y="2.77">-</text>
<text font-size="7.79" text-anchor="middle" stroke="#000" stroke-width="0.45" transform="translate(237.20 551.70) scale(1.000 1)" y="2.77">-</text>
<text font-size="7.79" text-anchor="middle" stroke="#000" stroke-width="0.45" transform="translate(248.90 551.70) scale(1.000 1)" y="2.77">-</text>
<text font-size="7.79" text-anchor="middle" stroke="#000" stroke-width="0.45" transform="translate(260.60 551.70) scale(1.000 1)" y="2.77">-</text>
<text font-size="7.79" text-anchor="middle" stroke="#000" stroke-width="0.45" transform="translate(281.50 551.70) scale(1.000 1)" y="2.77">-</text>
<text font-size="7.79" text-anchor="middle" stroke="#000" stroke-width="0.45" transform="translate(293.50 551.70) scale(1.000 1)" y="2.77">-</text>
<text font-size="7.05" text-anchor="middle" stroke="#000" stroke-width="0.35" transform="translate(305.50 552.45) scale(1.000 1)" y="2.50">+</text>
<text font-size="7.79" text-anchor="middle" stroke="#000" stroke-width="0.45" transform="translate(317.50 551.70) scale(1.000 1)" y="2.77">-</text>
<text font-size="7.05" text-anchor="middle" stroke="#000" stroke-width="0.35" transform="translate(329.50 552.45) scale(1.000 1)" y="2.50">+</text>
<text font-size="7.79" text-anchor="middle" stroke="#000" stroke-width="0.45" transform="translate(212.50 563.20) scale(1.000 1)" y="2.77">-</text>
<text font-size="7.79" text-anchor="middle" stroke="#000" stroke-width="0.45" transform="translate(224.80 563.20) scale(1.000 1)" y="2.77">-</text>
<text font-size="7.79" text-anchor="middle" stroke="#000" stroke-width="0.45" transform="translate(237.20 563.20) scale(1.000 1)" y="2.77">-</text>
<text font-size="7.79" text-anchor="middle" stroke="#000" stroke-width="0.45" transform="translate(248.90 563.20) scale(1.000 1)" y="2.77">-</text>
<text font-size="7.79" text-anchor="middle" stroke="#000" stroke-width="0.45" transform="translate(260.60 563.20) scale(1.000 1)" y="2.77">-</text>
<text font-size="7.79" text-anchor="middle" stroke="#000" stroke-width="0.45" transform="translate(281.50 563.20) scale(1.000 1)" y="2.77">-</text>
<text font-size="7.79" text-anchor="middle" stroke="#000" stroke-width="0.45" transform="translate(293.50 563.20) scale(1.000 1)" y="2.77">-</text>
<text font-size="7.79" text-anchor="middle" stroke="#000" stroke-width="0.45" transform="translate(305.50 563.20) scale(1.000 1)" y="2.77">-</text>
<text font-size="7.05" text-anchor="middle" stroke="#000" stroke-width="0.35" transform="translate(317.50 563.95) scale(1.000 1)" y="2.50">+</text>
<text font-size="7.05" text-anchor="middle" stroke="#000" stroke-width="0.35" transform="translate(329.50 563.95) scale(1.000 1)" y="2.50">+</text>
<line x1="212.50" y1="497.70" x2="212.50" y2="500.00" stroke="#000" stroke-width="1.0" />
<line x1="224.80" y1="497.70" x2="224.80" y2="500.00" stroke="#000" stroke-width="1.0" />
<line x1="237.20" y1="497.70" x2="237.20" y2="500.00" stroke="#000" stroke-width="1.0" />
<line x1="248.90" y1="497.70" x2="248.90" y2="500.00" stroke="#000" stroke-width="1.0" />
<line x1="260.60" y1="497.70" x2="260.60" y2="500.00" stroke="#000" stroke-width="1.0" />
<line x1="281.50" y1="497.70" x2="281.50" y2="500.00" stroke="#000" stroke-width="1.0" />
<line x1="293.50" y1="497.70" x2="293.50" y2="500.00" stroke="#000" stroke-width="1.0" />
<line x1="305.50" y1="497.70" x2="305.50" y2="500.00" stroke="#000" stroke-width="1.0" />
<line x1="317.50" y1="497.70" x2="317.50" y2="500.00" stroke="#000" stroke-width="1.0" />
<line x1="329.50" y1="497.70" x2="329.50" y2="500.00" stroke="#000" stroke-width="1.0" />
<text font-size="8.70" text-anchor="middle" stroke="#000" stroke-width="0.18" transform="translate(181.60 432.40) rotate(-90) scale(1.000 1)" y="3.09">Fold change of colony</text>
<text font-size="14.00" text-anchor="start" font-weight="bold" transform="translate(347.80 364.50) scale(1.000 1)" y="4.97">H</text>
<text font-size="8.75" text-anchor="middle" stroke="#000" stroke-width="0.18" transform="translate(413.40 360.00) scale(1.000 1)" y="3.11">Bel-7402</text>
<text font-size="8.60" text-anchor="middle" stroke="#000" stroke-width="0.18" transform="translate(481.80 360.00) scale(1.000 1)" y="3.05">MHCC-97H</text>
<line x1="383.20" y1="372.85" x2="383.20" y2="497.85" stroke="#000" stroke-width="1.3" />
<line x1="382.55" y1="497.20" x2="520.00" y2="497.20" stroke="#000" stroke-width="1.3" />
<line x1="381.50" y1="373.50" x2="383.20" y2="373.50" stroke="#000" stroke-width="1.1700000000000002" />
<text font-size="8.40" text-anchor="end" stroke="#000" stroke-width="0.18" transform="translate(378.00 374.00) scale(1.000 1)" y="2.98">4</text>
<line x1="381.50" y1="404.43" x2="383.20" y2="404.43" stroke="#000" stroke-width="1.1700000000000002" />
<text font-size="8.40" text-anchor="end" stroke="#000" stroke-width="0.18" transform="translate(378.00 404.93) scale(1.000 1)" y="2.98">3</text>
<line x1="381.50" y1="435.36" x2="383.20" y2="435.36" stroke="#000" stroke-width="1.1700000000000002" />
<text font-size="8.40" text-anchor="end" stroke="#000" stroke-width="0.18" transform="translate(378.00 435.86) scale(1.000 1)" y="2.98">2</text>
<line x1="381.50" y1="466.29" x2="383.20" y2="466.29" stroke="#000" stroke-width="1.1700000000000002" />
<text font-size="8.40" text-anchor="end" stroke="#000" stroke-width="0.18" transform="translate(378.00 466.79) scale(1.000 1)" y="2.98">1</text>
<line x1="381.50" y1="497.22" x2="383.20" y2="497.22" stroke="#000" stroke-width="1.1700000000000002" />
<text font-size="8.40" text-anchor="end" stroke="#000" stroke-width="0.18" transform="translate(378.00 495.62) scale(1.000 1)" y="2.98">0</text>
<line x1="393.50" y1="466.80" x2="393.50" y2="466.20" stroke="#000" stroke-width="1.3" />
<line x1="391.30" y1="466.20" x2="395.70" y2="466.20" stroke="#000" stroke-width="1.3" />
<rect x="389.65" y="467.45" width="7.70" height="29.75" fill="#fff" stroke="#000" stroke-width="1.3" />
<line x1="405.70" y1="394.00" x2="405.70" y2="382.20" stroke="#000" stroke-width="1.3" />
<line x1="403.35" y1="382.20" x2="408.05" y2="382.20" stroke="#000" stroke-width="1.3" />
<rect x="401.85" y="394.65" width="7.70" height="102.55" fill="#000" stroke="#000" stroke-width="1.3" />
<line x1="417.70" y1="445.70" x2="417.70" y2="443.00" stroke="#000" stroke-width="1.3" />
<line x1="415.35" y1="443.00" x2="420.05" y2="443.00" stroke="#000" stroke-width="1.3" />
<rect x="413.85" y="446.35" width="7.70" height="50.85" fill="#d9d9d9" stroke="#000" stroke-width="1.3" />
<line x1="429.70" y1="429.10" x2="429.70" y2="424.60" stroke="#000" stroke-width="1.3" />
<line x1="427.35" y1="424.60" x2="432.05" y2="424.60" stroke="#000" stroke-width="1.3" />
<rect x="425.85" y="429.75" width="7.70" height="67.45" fill="#808080" stroke="#000" stroke-width="1.3" />
<line x1="441.70" y1="454.40" x2="441.70" y2="453.50" stroke="#000" stroke-width="1.3" />
<line x1="439.35" y1="453.50" x2="444.05" y2="453.50" stroke="#000" stroke-width="1.3" />
<rect x="437.85" y="455.05" width="7.70" height="42.15" fill="url(#chk)" stroke="#000" stroke-width="1.3" />
<line x1="461.70" y1="465.80" x2="461.70" y2="465.20" stroke="#000" stroke-width="1.3" />
<line x1="459.50" y1="465.20" x2="463.90" y2="465.20" stroke="#000" stroke-width="1.3" />
<rect x="457.85" y="466.45" width="7.70" height="30.75" fill="#fff" stroke="#000" stroke-width="1.3" />
<line x1="473.70" y1="483.10" x2="473.70" y2="480.70" stroke="#000" stroke-width="1.3" />
<line x1="471.35" y1="480.70" x2="476.05" y2="480.70" stroke="#000" stroke-width="1.3" />
<rect x="469.85" y="483.75" width="7.70" height="13.45" fill="#000" stroke="#000" stroke-width="1.3" />
<line x1="485.50" y1="477.20" x2="485.50" y2="475.50" stroke="#000" stroke-width="1.3" />
<line x1="483.15" y1="475.50" x2="487.85" y2="475.50" stroke="#000" stroke-width="1.3" />
<rect x="481.65" y="477.85" width="7.70" height="19.35" fill="#d9d9d9" stroke="#000" stroke-width="1.3" />
<line x1="497.50" y1="478.20" x2="497.50" y2="476.80" stroke="#000" stroke-width="1.3" />
<line x1="495.15" y1="476.80" x2="499.85" y2="476.80" stroke="#000" stroke-width="1.3" />
<rect x="493.65" y="478.85" width="7.70" height="18.35" fill="#808080" stroke="#000" stroke-width="1.3" />
<line x1="509.50" y1="472.40" x2="509.50" y2="469.60" stroke="#000" stroke-width="1.3" />
<line x1="507.15" y1="469.60" x2="511.85" y2="469.60" stroke="#000" stroke-width="1.3" />
<rect x="505.65" y="473.05" width="7.70" height="24.15" fill="url(#chk)" stroke="#000" stroke-width="1.3" />
<path d="M405.20 379.00 V376.80 Q405.20 375.80 406.20 375.80 H441.60 Q442.60 375.80 442.60 376.80 V379.00" fill="none" stroke="#000" stroke-width="1.05"/>
<text font-size="12.00" text-anchor="middle" stroke="#000" stroke-width="0.18" letter-spacing="1.2" transform="translate(424.40 373.00) scale(1.000 1)" y="4.26">**</text>
<path d="M416.20 406.60 V404.40 Q416.20 403.40 417.20 403.40 H440.60 Q441.60 403.40 441.60 404.40 V406.60" fill="none" stroke="#000" stroke-width="1.05"/>
<text font-size="8.40" text-anchor="middle" stroke="#000" stroke-width="0.18" transform="translate(428.60 397.80) scale(1.000 1)" y="2.98">ns</text>
<path d="M429.20 420.20 V418.00 Q429.20 417.00 430.20 417.00 H439.20 Q440.20 417.00 440.20 418.00 V420.20" fill="none" stroke="#000" stroke-width="1.05"/>
<text font-size="12.00" text-anchor="middle" stroke="#000" stroke-width="0.18" transform="translate(435.00 414.00) scale(1.000 1)" y="4.26">*</text>
<path d="M471.40 438.40 V436.20 Q471.40 435.20 472.40 435.20 H507.70 Q508.70 435.20 508.70 436.20 V438.40" fill="none" stroke="#000" stroke-width="1.05"/>
<text font-size="12.00" text-anchor="middle" stroke="#000" stroke-width="0.18" transform="translate(490.60 431.40) scale(1.000 1)" y="4.26">*</text>
<path d="M484.20 451.30 V449.10 Q484.20 448.10 485.20 448.10 H507.70 Q508.70 448.10 508.70 449.10 V451.30" fill="none" stroke="#000" stroke-width="1.05"/>
<text font-size="8.40" text-anchor="middle" stroke="#000" stroke-width="0.18" transform="translate(496.40 442.30) scale(1.000 1)" y="2.98">ns</text>
<path d="M497.40 465.40 V463.20 Q497.40 462.20 498.40 462.20 H507.60 Q508.60 462.20 508.60 463.20 V465.40" fill="none" stroke="#000" stroke-width="1.05"/>
<text font-size="8.40" text-anchor="middle" stroke="#000" stroke-width="0.18" transform="translate(503.20 456.20) scale(1.000 1)" y="2.98">ns</text>
<text font-size="8.20" text-anchor="end" stroke="#000" stroke-width="0.18" transform="translate(383.50 506.80) scale(1.000 1)" y="2.91">CBX8</text>
<text font-size="8.15" text-anchor="end" stroke="#000" stroke-width="0.18" transform="translate(383.50 518.00) scale(1.000 1)" y="2.89">siEGR1</text>
<text font-size="8.90" text-anchor="end" stroke="#000" stroke-width="0.18" transform="translate(381.50 529.00) scale(1.000 1)" y="3.16">miR in</text>
<text font-size="8.20" text-anchor="end" stroke="#000" stroke-width="0.18" transform="translate(383.50 540.20) scale(1.000 1)" y="2.91">shCBX8</text>
<text font-size="8.20" text-anchor="end" stroke="#000" stroke-width="0.18" transform="translate(383.50 551.20) scale(1.000 1)" y="2.91">EGR1</text>
<text font-size="8.20" text-anchor="end" stroke="#000" stroke-width="0.18" transform="translate(383.50 562.90) scale(1.000 1)" y="2.91">miR</text>
<text font-size="7.79" text-anchor="middle" stroke="#000" stroke-width="0.45" transform="translate(393.80 507.20) scale(1.000 1)" y="2.77">-</text>
<text font-size="7.05" text-anchor="middle" stroke="#000" stroke-width="0.35" transform="translate(405.90 507.95) scale(1.000 1)" y="2.50">+</text>
<text font-size="7.05" text-anchor="middle" stroke="#000" stroke-width="0.35" transform="translate(418.10 507.95) scale(1.000 1)" y="2.50">+</text>
<text font-size="7.05" text-anchor="middle" stroke="#000" stroke-width="0.35" transform="translate(430.00 507.95) scale(1.000 1)" y="2.50">+</text>
<text font-size="7.05" text-anchor="middle" stroke="#000" stroke-width="0.35" transform="translate(441.90 507.95) scale(1.000 1)" y="2.50">+</text>
<text font-size="7.79" text-anchor="middle" stroke="#000" stroke-width="0.45" transform="translate(461.80 507.20) scale(1.000 1)" y="2.77">-</text>
<text font-size="7.79" text-anchor="middle" stroke="#000" stroke-width="0.45" transform="translate(473.80 507.20) scale(1.000 1)" y="2.77">-</text>
<text font-size="7.79" text-anchor="middle" stroke="#000" stroke-width="0.45" transform="translate(485.60 507.20) scale(1.000 1)" y="2.77">-</text>
<text font-size="7.79" text-anchor="middle" stroke="#000" stroke-width="0.45" transform="translate(497.60 507.20) scale(1.000 1)" y="2.77">-</text>
<text font-size="7.79" text-anchor="middle" stroke="#000" stroke-width="0.45" transform="translate(509.50 507.20) scale(1.000 1)" y="2.77">-</text>
<text font-size="7.79" text-anchor="middle" stroke="#000" stroke-width="0.45" transform="translate(393.80 518.40) scale(1.000 1)" y="2.77">-</text>
<text font-size="7.79" text-anchor="middle" stroke="#000" stroke-width="0.45" transform="translate(405.90 518.40) scale(1.000 1)" y="2.77">-</text>
<text font-size="7.05" text-anchor="middle" stroke="#000" stroke-width="0.35" transform="translate(418.10 519.15) scale(1.000 1)" y="2.50">+</text>
<text font-size="7.79" text-anchor="middle" stroke="#000" stroke-width="0.45" transform="translate(430.00 518.40) scale(1.000 1)" y="2.77">-</text>
<text font-size="7.05" text-anchor="middle" stroke="#000" stroke-width="0.35" transform="translate(441.90 519.15) scale(1.000 1)" y="2.50">+</text>
<text font-size="7.79" text-anchor="middle" stroke="#000" stroke-width="0.45" transform="translate(461.80 518.40) scale(1.000 1)" y="2.77">-</text>
<text font-size="7.79" text-anchor="middle" stroke="#000" stroke-width="0.45" transform="translate(473.80 518.40) scale(1.000 1)" y="2.77">-</text>
<text font-size="7.79" text-anchor="middle" stroke="#000" stroke-width="0.45" transform="translate(485.60 518.40) scale(1.000 1)" y="2.77">-</text>
<text font-size="7.79" text-anchor="middle" stroke="#000" stroke-width="0.45" transform="translate(497.60 518.40) scale(1.000 1)" y="2.77">-</text>
<text font-size="7.79" text-anchor="middle" stroke="#000" stroke-width="0.45" transform="translate(509.50 518.40) scale(1.000 1)" y="2.77">-</text>
<text font-size="7.79" text-anchor="middle" stroke="#000" stroke-width="0.45" transform="translate(393.80 529.40) scale(1.000 1)" y="2.77">-</text>
<text font-size="7.79" text-anchor="middle" stroke="#000" stroke-width="0.45" transform="translate(405.90 529.40) scale(1.000 1)" y="2.77">-</text>
<text font-size="7.79" text-anchor="middle" stroke="#000" stroke-width="0.45" transform="translate(418.10 529.40) scale(1.000 1)" y="2.77">-</text>
<text font-size="7.05" text-anchor="middle" stroke="#000" stroke-width="0.35" transform="translate(430.00 530.15) scale(1.000 1)" y="2.50">+</text>
<text font-size="7.05" text-anchor="middle" stroke="#000" stroke-width="0.35" transform="translate(441.90 530.15) scale(1.000 1)" y="2.50">+</text>
<text font-size="7.79" text-anchor="middle" stroke="#000" stroke-width="0.45" transform="translate(461.80 529.40) scale(1.000 1)" y="2.77">-</text>
<text font-size="7.79" text-anchor="middle" stroke="#000" stroke-width="0.45" transform="translate(473.80 529.40) scale(1.000 1)" y="2.77">-</text>
<text font-size="7.79" text-anchor="middle" stroke="#000" stroke-width="0.45" transform="translate(485.60 529.40) scale(1.000 1)" y="2.77">-</text>
<text font-size="7.79" text-anchor="middle" stroke="#000" stroke-width="0.45" transform="translate(497.60 529.40) scale(1.000 1)" y="2.77">-</text>
<text font-size="7.79" text-anchor="middle" stroke="#000" stroke-width="0.45" transform="translate(509.50 529.40) scale(1.000 1)" y="2.77">-</text>
<text font-size="7.79" text-anchor="middle" stroke="#000" stroke-width="0.45" transform="translate(393.80 540.60) scale(1.000 1)" y="2.77">-</text>
<text font-size="7.79" text-anchor="middle" stroke="#000" stroke-width="0.45" transform="translate(405.90 540.60) scale(1.000 1)" y="2.77">-</text>
<text font-size="7.79" text-anchor="middle" stroke="#000" stroke-width="0.45" transform="translate(418.10 540.60) scale(1.000 1)" y="2.77">-</text>
<text font-size="7.79" text-anchor="middle" stroke="#000" stroke-width="0.45" transform="translate(430.00 540.60) scale(1.000 1)" y="2.77">-</text>
<text font-size="7.79" text-anchor="middle" stroke="#000" stroke-width="0.45" transform="translate(441.90 540.60) scale(1.000 1)" y="2.77">-</text>
<text font-size="7.79" text-anchor="middle" stroke="#000" stroke-width="0.45" transform="translate(461.80 540.60) scale(1.000 1)" y="2.77">-</text>
<text font-size="7.05" text-anchor="middle" stroke="#000" stroke-width="0.35" transform="translate(473.80 541.35) scale(1.000 1)" y="2.50">+</text>
<text font-size="7.05" text-anchor="middle" stroke="#000" stroke-width="0.35" transform="translate(485.60 541.35) scale(1.000 1)" y="2.50">+</text>
<text font-size="7.05" text-anchor="middle" stroke="#000" stroke-width="0.35" transform="translate(497.60 541.35) scale(1.000 1)" y="2.50">+</text>
<text font-size="7.05" text-anchor="middle" stroke="#000" stroke-width="0.35" transform="translate(509.50 541.35) scale(1.000 1)" y="2.50">+</text>
<text font-size="7.79" text-anchor="middle" stroke="#000" stroke-width="0.45" transform="translate(393.80 551.60) scale(1.000 1)" y="2.77">-</text>
<text font-size="7.79" text-anchor="middle" stroke="#000" stroke-width="0.45" transform="translate(405.90 551.60) scale(1.000 1)" y="2.77">-</text>
<text font-size="7.79" text-anchor="middle" stroke="#000" stroke-width="0.45" transform="translate(418.10 551.60) scale(1.000 1)" y="2.77">-</text>
<text font-size="7.79" text-anchor="middle" stroke="#000" stroke-width="0.45" transform="translate(430.00 551.60) scale(1.000 1)" y="2.77">-</text>
<text font-size="7.79" text-anchor="middle" stroke="#000" stroke-width="0.45" transform="translate(441.90 551.60) scale(1.000 1)" y="2.77">-</text>
<text font-size="7.79" text-anchor="middle" stroke="#000" stroke-width="0.45" transform="translate(461.80 551.60) scale(1.000 1)" y="2.77">-</text>
<text font-size="7.79" text-anchor="middle" stroke="#000" stroke-width="0.45" transform="translate(473.80 551.60) scale(1.000 1)" y="2.77">-</text>
<text font-size="7.05" text-anchor="middle" stroke="#000" stroke-width="0.35" transform="translate(485.60 552.35) scale(1.000 1)" y="2.50">+</text>
<text font-size="7.79" text-anchor="middle" stroke="#000" stroke-width="0.45" transform="translate(497.60 551.60) scale(1.000 1)" y="2.77">-</text>
<text font-size="7.05" text-anchor="middle" stroke="#000" stroke-width="0.35" transform="translate(509.50 552.35) scale(1.000 1)" y="2.50">+</text>
<text font-size="7.79" text-anchor="middle" stroke="#000" stroke-width="0.45" transform="translate(393.80 563.30) scale(1.000 1)" y="2.77">-</text>
<text font-size="7.79" text-anchor="middle" stroke="#000" stroke-width="0.45" transform="translate(405.90 563.30) scale(1.000 1)" y="2.77">-</text>
<text font-size="7.79" text-anchor="middle" stroke="#000" stroke-width="0.45" transform="translate(418.10 563.30) scale(1.000 1)" y="2.77">-</text>
<text font-size="7.79" text-anchor="middle" stroke="#000" stroke-width="0.45" transform="translate(430.00 563.30) scale(1.000 1)" y="2.77">-</text>
<text font-size="7.79" text-anchor="middle" stroke="#000" stroke-width="0.45" transform="translate(441.90 563.30) scale(1.000 1)" y="2.77">-</text>
<text font-size="7.79" text-anchor="middle" stroke="#000" stroke-width="0.45" transform="translate(461.80 563.30) scale(1.000 1)" y="2.77">-</text>
<text font-size="7.79" text-anchor="middle" stroke="#000" stroke-width="0.45" transform="translate(473.80 563.30) scale(1.000 1)" y="2.77">-</text>
<text font-size="7.79" text-anchor="middle" stroke="#000" stroke-width="0.45" transform="translate(485.60 563.30) scale(1.000 1)" y="2.77">-</text>
<text font-size="7.05" text-anchor="middle" stroke="#000" stroke-width="0.35" transform="translate(497.60 564.05) scale(1.000 1)" y="2.50">+</text>
<text font-size="7.05" text-anchor="middle" stroke="#000" stroke-width="0.35" transform="translate(509.50 564.05) scale(1.000 1)" y="2.50">+</text>
<line x1="393.80" y1="497.20" x2="393.80" y2="499.50" stroke="#000" stroke-width="1.0" />
<line x1="405.90" y1="497.20" x2="405.90" y2="499.50" stroke="#000" stroke-width="1.0" />
<line x1="418.10" y1="497.20" x2="418.10" y2="499.50" stroke="#000" stroke-width="1.0" />
<line x1="430.00" y1="497.20" x2="430.00" y2="499.50" stroke="#000" stroke-width="1.0" />
<line x1="441.90" y1="497.20" x2="441.90" y2="499.50" stroke="#000" stroke-width="1.0" />
<line x1="461.80" y1="497.20" x2="461.80" y2="499.50" stroke="#000" stroke-width="1.0" />
<line x1="473.80" y1="497.20" x2="473.80" y2="499.50" stroke="#000" stroke-width="1.0" />
<line x1="485.60" y1="497.20" x2="485.60" y2="499.50" stroke="#000" stroke-width="1.0" />
<line x1="497.60" y1="497.20" x2="497.60" y2="499.50" stroke="#000" stroke-width="1.0" />
<line x1="509.50" y1="497.20" x2="509.50" y2="499.50" stroke="#000" stroke-width="1.0" />
<text font-size="8.95" text-anchor="middle" stroke="#000" stroke-width="0.18" transform="translate(362.40 435.00) rotate(-90) scale(1.000 1)" y="3.18">Migrated cells (fold change)</text>
<text font-size="14.00" text-anchor="start" font-weight="bold" stroke="#000" stroke-width="0.9" transform="translate(0.20 586.80) scale(1.000 1)" y="4.97">I</text>
<text font-size="8.60" text-anchor="middle" stroke="#000" stroke-width="0.18" transform="translate(66.00 588.60) scale(1.000 1)" y="3.05">Bel-7402</text>
<text font-size="8.50" text-anchor="middle" stroke="#000" stroke-width="0.18" transform="translate(129.60 588.60) scale(1.000 1)" y="3.02">MHCC-97H</text>
<line x1="37.00" y1="595.60" x2="91.00" y2="595.60" stroke="#000" stroke-width="1.1" />
<line x1="103.00" y1="595.60" x2="160.00" y2="595.60" stroke="#000" stroke-width="1.1" />
<text font-size="8.20" text-anchor="end" stroke="#000" stroke-width="0.18" transform="translate(29.00 602.20) scale(1.000 1)" y="2.91">CBX8</text>
<text font-size="8.15" text-anchor="end" stroke="#000" stroke-width="0.18" transform="translate(29.00 613.40) scale(1.000 1)" y="2.89">siEGR1</text>
<text font-size="8.90" text-anchor="end" stroke="#000" stroke-width="0.18" transform="translate(27.20 624.40) scale(1.000 1)" y="3.16">miR in</text>
<text font-size="8.20" text-anchor="end" stroke="#000" stroke-width="0.18" transform="translate(29.00 635.20) scale(1.000 1)" y="2.91">shCBX8</text>
<text font-size="8.20" text-anchor="end" stroke="#000" stroke-width="0.18" transform="translate(29.00 646.20) scale(1.000 1)" y="2.91">EGR1</text>
<text font-size="8.20" text-anchor="end" stroke="#000" stroke-width="0.18" transform="translate(29.00 658.00) scale(1.000 1)" y="2.91">miR</text>
<text font-size="7.79" text-anchor="middle" stroke="#000" stroke-width="0.45" transform="translate(39.10 602.80) scale(1.000 1)" y="2.77">-</text>
<text font-size="7.05" text-anchor="middle" stroke="#000" stroke-width="0.35" transform="translate(51.80 603.55) scale(1.000 1)" y="2.50">+</text>
<text font-size="7.05" text-anchor="middle" stroke="#000" stroke-width="0.35" transform="translate(63.60 603.55) scale(1.000 1)" y="2.50">+</text>
<text font-size="7.05" text-anchor="middle" stroke="#000" stroke-width="0.35" transform="translate(75.20 603.55) scale(1.000 1)" y="2.50">+</text>
<text font-size="7.05" text-anchor="middle" stroke="#000" stroke-width="0.35" transform="translate(87.40 603.55) scale(1.000 1)" y="2.50">+</text>
<text font-size="7.79" text-anchor="middle" stroke="#000" stroke-width="0.45" transform="translate(105.40 602.80) scale(1.000 1)" y="2.77">-</text>
<text font-size="7.79" text-anchor="middle" stroke="#000" stroke-width="0.45" transform="translate(116.40 602.80) scale(1.000 1)" y="2.77">-</text>
<text font-size="7.79" text-anchor="middle" stroke="#000" stroke-width="0.45" transform="translate(130.00 602.80) scale(1.000 1)" y="2.77">-</text>
<text font-size="7.79" text-anchor="middle" stroke="#000" stroke-width="0.45" transform="translate(143.60 602.80) scale(1.000 1)" y="2.77">-</text>
<text font-size="7.79" text-anchor="middle" stroke="#000" stroke-width="0.45" transform="translate(157.40 602.80) scale(1.000 1)" y="2.77">-</text>
<text font-size="7.79" text-anchor="middle" stroke="#000" stroke-width="0.45" transform="translate(39.10 614.00) scale(1.000 1)" y="2.77">-</text>
<text font-size="7.79" text-anchor="middle" stroke="#000" stroke-width="0.45" transform="translate(51.80 614.00) scale(1.000 1)" y="2.77">-</text>
<text font-size="7.05" text-anchor="middle" stroke="#000" stroke-width="0.35" transform="translate(63.60 614.75) scale(1.000 1)" y="2.50">+</text>
<text font-size="7.79" text-anchor="middle" stroke="#000" stroke-width="0.45" transform="translate(75.20 614.00) scale(1.000 1)" y="2.77">-</text>
<text font-size="7.05" text-anchor="middle" stroke="#000" stroke-width="0.35" transform="translate(87.40 614.75) scale(1.000 1)" y="2.50">+</text>
<text font-size="7.79" text-anchor="middle" stroke="#000" stroke-width="0.45" transform="translate(105.40 614.00) scale(1.000 1)" y="2.77">-</text>
<text font-size="7.79" text-anchor="middle" stroke="#000" stroke-width="0.45" transform="translate(116.40 614.00) scale(1.000 1)" y="2.77">-</text>
<text font-size="7.79" text-anchor="middle" stroke="#000" stroke-width="0.45" transform="translate(130.00 614.00) scale(1.000 1)" y="2.77">-</text>
<text font-size="7.79" text-anchor="middle" stroke="#000" stroke-width="0.45" transform="translate(143.60 614.00) scale(1.000 1)" y="2.77">-</text>
<text font-size="7.79" text-anchor="middle" stroke="#000" stroke-width="0.45" transform="translate(157.40 614.00) scale(1.000 1)" y="2.77">-</text>
<text font-size="7.79" text-anchor="middle" stroke="#000" stroke-width="0.45" transform="translate(39.10 625.00) scale(1.000 1)" y="2.77">-</text>
<text font-size="7.79" text-anchor="middle" stroke="#000" stroke-width="0.45" transform="translate(51.80 625.00) scale(1.000 1)" y="2.77">-</text>
<text font-size="7.79" text-anchor="middle" stroke="#000" stroke-width="0.45" transform="translate(63.60 625.00) scale(1.000 1)" y="2.77">-</text>
<text font-size="7.05" text-anchor="middle" stroke="#000" stroke-width="0.35" transform="translate(75.20 625.75) scale(1.000 1)" y="2.50">+</text>
<text font-size="7.05" text-anchor="middle" stroke="#000" stroke-width="0.35" transform="translate(87.40 625.75) scale(1.000 1)" y="2.50">+</text>
<text font-size="7.79" text-anchor="middle" stroke="#000" stroke-width="0.45" transform="translate(105.40 625.00) scale(1.000 1)" y="2.77">-</text>
<text font-size="7.79" text-anchor="middle" stroke="#000" stroke-width="0.45" transform="translate(116.40 625.00) scale(1.000 1)" y="2.77">-</text>
<text font-size="7.79" text-anchor="middle" stroke="#000" stroke-width="0.45" transform="translate(130.00 625.00) scale(1.000 1)" y="2.77">-</text>
<text font-size="7.79" text-anchor="middle" stroke="#000" stroke-width="0.45" transform="translate(143.60 625.00) scale(1.000 1)" y="2.77">-</text>
<text font-size="7.79" text-anchor="middle" stroke="#000" stroke-width="0.45" transform="translate(157.40 625.00) scale(1.000 1)" y="2.77">-</text>
<text font-size="7.79" text-anchor="middle" stroke="#000" stroke-width="0.45" transform="translate(39.10 635.80) scale(1.000 1)" y="2.77">-</text>
<text font-size="7.79" text-anchor="middle" stroke="#000" stroke-width="0.45" transform="translate(51.80 635.80) scale(1.000 1)" y="2.77">-</text>
<text font-size="7.79" text-anchor="middle" stroke="#000" stroke-width="0.45" transform="translate(63.60 635.80) scale(1.000 1)" y="2.77">-</text>
<text font-size="7.79" text-anchor="middle" stroke="#000" stroke-width="0.45" transform="translate(75.20 635.80) scale(1.000 1)" y="2.77">-</text>
<text font-size="7.79" text-anchor="middle" stroke="#000" stroke-width="0.45" transform="translate(87.40 635.80) scale(1.000 1)" y="2.77">-</text>
<text font-size="7.79" text-anchor="middle" stroke="#000" stroke-width="0.45" transform="translate(105.40 635.80) scale(1.000 1)" y="2.77">-</text>
<text font-size="7.05" text-anchor="middle" stroke="#000" stroke-width="0.35" transform="translate(116.40 636.55) scale(1.000 1)" y="2.50">+</text>
<text font-size="7.05" text-anchor="middle" stroke="#000" stroke-width="0.35" transform="translate(130.00 636.55) scale(1.000 1)" y="2.50">+</text>
<text font-size="7.05" text-anchor="middle" stroke="#000" stroke-width="0.35" transform="translate(143.60 636.55) scale(1.000 1)" y="2.50">+</text>
<text font-size="7.05" text-anchor="middle" stroke="#000" stroke-width="0.35" transform="translate(157.40 636.55) scale(1.000 1)" y="2.50">+</text>
<text font-size="7.79" text-anchor="middle" stroke="#000" stroke-width="0.45" transform="translate(39.10 646.80) scale(1.000 1)" y="2.77">-</text>
<text font-size="7.79" text-anchor="middle" stroke="#000" stroke-width="0.45" transform="translate(51.80 646.80) scale(1.000 1)" y="2.77">-</text>
<text font-size="7.79" text-anchor="middle" stroke="#000" stroke-width="0.45" transform="translate(63.60 646.80) scale(1.000 1)" y="2.77">-</text>
<text font-size="7.79" text-anchor="middle" stroke="#000" stroke-width="0.45" transform="translate(75.20 646.80) scale(1.000 1)" y="2.77">-</text>
<text font-size="7.79" text-anchor="middle" stroke="#000" stroke-width="0.45" transform="translate(87.40 646.80) scale(1.000 1)" y="2.77">-</text>
<text font-size="7.79" text-anchor="middle" stroke="#000" stroke-width="0.45" transform="translate(105.40 646.80) scale(1.000 1)" y="2.77">-</text>
<text font-size="7.79" text-anchor="middle" stroke="#000" stroke-width="0.45" transform="translate(116.40 646.80) scale(1.000 1)" y="2.77">-</text>
<text font-size="7.05" text-anchor="middle" stroke="#000" stroke-width="0.35" transform="translate(130.00 647.55) scale(1.000 1)" y="2.50">+</text>
<text font-size="7.79" text-anchor="middle" stroke="#000" stroke-width="0.45" transform="translate(143.60 646.80) scale(1.000 1)" y="2.77">-</text>
<text font-size="7.05" text-anchor="middle" stroke="#000" stroke-width="0.35" transform="translate(157.40 647.55) scale(1.000 1)" y="2.50">+</text>
<text font-size="7.79" text-anchor="middle" stroke="#000" stroke-width="0.45" transform="translate(39.10 658.60) scale(1.000 1)" y="2.77">-</text>
<text font-size="7.79" text-anchor="middle" stroke="#000" stroke-width="0.45" transform="translate(51.80 658.60) scale(1.000 1)" y="2.77">-</text>
<text font-size="7.79" text-anchor="middle" stroke="#000" stroke-width="0.45" transform="translate(63.60 658.60) scale(1.000 1)" y="2.77">-</text>
<text font-size="7.79" text-anchor="middle" stroke="#000" stroke-width="0.45" transform="translate(75.20 658.60) scale(1.000 1)" y="2.77">-</text>
<text font-size="7.79" text-anchor="middle" stroke="#000" stroke-width="0.45" transform="translate(87.40 658.60) scale(1.000 1)" y="2.77">-</text>
<text font-size="7.79" text-anchor="middle" stroke="#000" stroke-width="0.45" transform="translate(105.40 658.60) scale(1.000 1)" y="2.77">-</text>
<text font-size="7.79" text-anchor="middle" stroke="#000" stroke-width="0.45" transform="translate(116.40 658.60) scale(1.000 1)" y="2.77">-</text>
<text font-size="7.79" text-anchor="middle" stroke="#000" stroke-width="0.45" transform="translate(130.00 658.60) scale(1.000 1)" y="2.77">-</text>
<text font-size="7.05" text-anchor="middle" stroke="#000" stroke-width="0.35" transform="translate(143.60 659.35) scale(1.000 1)" y="2.50">+</text>
<text font-size="7.05" text-anchor="middle" stroke="#000" stroke-width="0.35" transform="translate(157.40 659.35) scale(1.000 1)" y="2.50">+</text>
<clipPath id="cl1"><rect x="31.00" y="664.30" width="63.80" height="17.90"/></clipPath>
<rect x="31.00" y="664.30" width="63.80" height="17.90" fill="#f1f1f1" />
<g clip-path="url(#cl1)"><g filter="url(#b07)">
<rect x="33.25" y="672.10" width="10.50" height="3.00" rx="1.50" fill="#0c0c0c"/>
<rect x="46.40" y="671.00" width="11.20" height="6.40" rx="2.60" fill="#050505"/>
<rect x="58.80" y="671.30" width="11.40" height="6.60" rx="2.60" fill="#050505"/>
<rect x="71.10" y="671.30" width="11.40" height="6.60" rx="2.60" fill="#050505"/>
<rect x="83.50" y="672.20" width="10.60" height="5.60" rx="2.60" fill="#050505"/>
</g></g>
<rect x="31.00" y="664.30" width="63.80" height="17.90" fill="none" stroke="#000" stroke-width="0.9" />
<clipPath id="cl2"><rect x="98.20" y="664.30" width="63.60" height="17.90"/></clipPath>
<rect x="98.20" y="664.30" width="63.60" height="17.90" fill="#f1f1f1" />
<g clip-path="url(#cl2)"><g filter="url(#b07)">
<rect x="99.80" y="670.30" width="10.40" height="5.80" rx="2.60" fill="#050505"/>
<rect x="111.90" y="672.00" width="9.40" height="2.80" rx="1.40" fill="#2c2c2c"/>
<rect x="125.80" y="672.60" width="9.00" height="2.80" rx="1.40" fill="#303030"/>
<rect x="139.10" y="672.40" width="9.20" height="2.80" rx="1.40" fill="#262626"/>
<rect x="152.30" y="672.20" width="9.40" height="3.20" rx="1.60" fill="#1c1c1c"/>
</g></g>
<rect x="98.20" y="664.30" width="63.60" height="17.90" fill="none" stroke="#000" stroke-width="0.9" />
<clipPath id="cl3"><rect x="31.00" y="686.00" width="63.80" height="17.20"/></clipPath>
<rect x="31.00" y="686.00" width="63.80" height="17.20" fill="#f4f4f4" />
<g clip-path="url(#cl3)"><g filter="url(#b07)">
<rect x="33.20" y="691.90" width="10.60" height="2.60" rx="1.30" fill="#161616"/>
<rect x="46.50" y="692.40" width="11.00" height="4.00" rx="2.00" fill="#0a0a0a"/>
<rect x="59.40" y="693.60" width="10.20" height="3.20" rx="1.60" fill="#1a1a1a"/>
<rect x="72.00" y="693.30" width="9.60" height="3.00" rx="1.50" fill="#333"/>
<rect x="84.20" y="694.10" width="9.20" height="2.60" rx="1.30" fill="#4a4a4a"/>
</g></g>
<rect x="31.00" y="686.00" width="63.80" height="17.20" fill="none" stroke="#000" stroke-width="0.9" />
<clipPath id="cl4"><rect x="98.20" y="686.00" width="63.60" height="17.20"/></clipPath>
<rect x="98.20" y="686.00" width="63.60" height="17.20" fill="#f4f4f4" />
<g clip-path="url(#cl4)"><g filter="url(#b07)">
<rect x="99.70" y="691.70" width="10.60" height="3.40" rx="1.70" fill="#101010"/>
<rect x="111.60" y="693.40" width="10.00" height="3.20" rx="1.60" fill="#1a1a1a"/>
<rect x="125.10" y="693.20" width="10.40" height="4.00" rx="2.00" fill="#0c0c0c"/>
<rect x="138.90" y="693.60" width="9.60" height="3.20" rx="1.60" fill="#1c1c1c"/>
<rect x="151.30" y="692.70" width="11.40" height="4.60" rx="2.30" fill="#080808"/>
</g></g>
<rect x="98.20" y="686.00" width="63.60" height="17.20" fill="none" stroke="#000" stroke-width="0.9" />
<clipPath id="cl5"><rect x="31.00" y="707.30" width="63.80" height="17.60"/></clipPath>
<rect x="31.00" y="707.30" width="63.80" height="17.60" fill="#e6e6e6" />
<g clip-path="url(#cl5)"><g filter="url(#b1)">
<rect x="34.00" y="714.40" width="57.80" height="4.40" rx="2.20" fill="#161616"/>
<rect x="32.50" y="711.40" width="12.00" height="9.80" rx="4.50" fill="#050505"/>
<rect x="46.00" y="711.40" width="12.00" height="9.80" rx="4.50" fill="#050505"/>
<rect x="58.50" y="711.40" width="12.00" height="9.80" rx="4.50" fill="#050505"/>
<rect x="70.80" y="711.40" width="12.00" height="9.80" rx="4.50" fill="#050505"/>
<rect x="82.80" y="711.40" width="12.00" height="9.80" rx="4.50" fill="#050505"/>
</g></g>
<rect x="31.00" y="707.30" width="63.80" height="17.60" fill="none" stroke="#000" stroke-width="0.9" />
<clipPath id="cl6"><rect x="98.20" y="707.30" width="63.60" height="17.60"/></clipPath>
<rect x="98.20" y="707.30" width="63.60" height="17.60" fill="#e6e6e6" />
<g clip-path="url(#cl6)"><g filter="url(#b1)">
<rect x="101.20" y="714.70" width="57.60" height="3.80" rx="1.90" fill="#1c1c1c"/>
<rect x="99.30" y="711.70" width="11.40" height="9.20" rx="4.50" fill="#050505"/>
<rect x="110.90" y="711.70" width="11.40" height="9.20" rx="4.50" fill="#050505"/>
<rect x="124.60" y="711.70" width="11.40" height="9.20" rx="4.50" fill="#050505"/>
<rect x="138.00" y="711.70" width="11.40" height="9.20" rx="4.50" fill="#050505"/>
<rect x="151.30" y="711.70" width="11.40" height="9.20" rx="4.50" fill="#050505"/>
</g></g>
<rect x="98.20" y="707.30" width="63.60" height="17.60" fill="none" stroke="#000" stroke-width="0.9" />
<clipPath id="cl7"><rect x="31.00" y="728.40" width="63.80" height="15.60"/></clipPath>
<rect x="31.00" y="728.40" width="63.80" height="15.60" fill="#eaeaea" />
<g clip-path="url(#cl7)"><g filter="url(#b07)">
<rect x="32.00" y="733.40" width="61.80" height="5.60" rx="2.60" fill="#050505"/>
<rect x="32.50" y="732.60" width="12.00" height="6.40" rx="2.60" fill="#050505"/>
<rect x="46.00" y="733.60" width="12.00" height="6.40" rx="2.60" fill="#050505"/>
<rect x="58.50" y="733.70" width="12.00" height="6.40" rx="2.60" fill="#050505"/>
<rect x="70.80" y="733.20" width="12.00" height="6.40" rx="2.60" fill="#050505"/>
<rect x="82.80" y="732.70" width="12.00" height="6.40" rx="2.60" fill="#050505"/>
</g></g>
<rect x="31.00" y="728.40" width="63.80" height="15.60" fill="none" stroke="#000" stroke-width="0.9" />
<clipPath id="cl8"><rect x="98.20" y="728.40" width="63.60" height="15.60"/></clipPath>
<rect x="98.20" y="728.40" width="63.60" height="15.60" fill="#eaeaea" />
<g clip-path="url(#cl8)"><g filter="url(#b07)">
<rect x="99.20" y="734.00" width="61.60" height="5.20" rx="2.60" fill="#050505"/>
<rect x="99.00" y="733.90" width="12.00" height="6.20" rx="2.60" fill="#050505"/>
<rect x="110.60" y="734.50" width="12.00" height="6.20" rx="2.60" fill="#050505"/>
<rect x="124.30" y="734.10" width="12.00" height="6.20" rx="2.60" fill="#050505"/>
<rect x="137.70" y="734.30" width="12.00" height="6.20" rx="2.60" fill="#050505"/>
<rect x="151.00" y="733.50" width="12.00" height="6.20" rx="2.60" fill="#050505"/>
</g></g>
<rect x="98.20" y="728.40" width="63.60" height="15.60" fill="none" stroke="#000" stroke-width="0.9" />
<text font-size="8.65" text-anchor="end" stroke="#000" stroke-width="0.18" transform="translate(26.60 674.00) scale(1.000 1)" y="3.07">43 kDa</text>
<text font-size="8.65" text-anchor="end" stroke="#000" stroke-width="0.18" transform="translate(26.60 695.60) scale(1.000 1)" y="3.07">92 kDa</text>
<text font-size="8.65" text-anchor="end" stroke="#000" stroke-width="0.18" transform="translate(26.60 716.20) scale(1.000 1)" y="3.07">92 kDa</text>
<text font-size="8.65" text-anchor="end" stroke="#000" stroke-width="0.18" transform="translate(26.60 737.00) scale(1.000 1)" y="3.07">37 kDa</text>
<text font-size="8.30" text-anchor="start" stroke="#000" stroke-width="0.18" transform="translate(165.20 673.40) scale(1.000 1)" y="2.95">CBX8</text>
<text font-size="8.30" text-anchor="start" stroke="#000" stroke-width="0.18" transform="translate(165.20 694.60) scale(1.000 1)" y="2.95">p-β-Catenin</text>
<text font-size="8.30" text-anchor="start" stroke="#000" stroke-width="0.18" transform="translate(165.20 716.20) scale(1.000 1)" y="2.95">β-Catenin</text>
<text font-size="8.30" text-anchor="start" stroke="#000" stroke-width="0.18" transform="translate(167.40 737.40) scale(1.000 1)" y="2.95">GAPDH</text>
<defs>
<filter id="nuc" x="-20%" y="-20%" width="140%" height="140%" color-interpolation-filters="sRGB">
<feGaussianBlur in="SourceGraphic" stdDeviation="1.5" result="bl"/>
<feTurbulence type="fractalNoise" baseFrequency="0.22" numOctaves="2" seed="7" result="nz"/>
<feColorMatrix in="nz" type="matrix" values="1.1 0.9 0 0 -0.35  1.1 0.9 0 0 -0.35  1.1 0.9 0 0 -0.35  0 0 0 0 1" result="nz2"/>
<feComposite in="bl" in2="nz2" operator="arithmetic" k1="0.9" k2="0.45" k3="0" k4="0"/>
</filter>
<filter id="nuc2" x="-20%" y="-20%" width="140%" height="140%" color-interpolation-filters="sRGB">
<feGaussianBlur in="SourceGraphic" stdDeviation="1.9" result="bl"/>
<feTurbulence type="fractalNoise" baseFrequency="0.17" numOctaves="3" seed="5" result="nz"/>
<feColorMatrix in="nz" type="matrix" values="1.3 1.0 0 0 -0.45  1.3 1.0 0 0 -0.45  1.3 1.0 0 0 -0.45  0 0 0 0 1" result="nz2"/>
<feComposite in="bl" in2="nz2" operator="arithmetic" k1="0.9" k2="0.5" k3="0" k4="0"/>
</filter>
<filter id="redf" x="-20%" y="-20%" width="140%" height="140%" color-interpolation-filters="sRGB">
<feGaussianBlur in="SourceGraphic" stdDeviation="0.9" result="bl"/>
<feTurbulence type="fractalNoise" baseFrequency="0.45" numOctaves="2" seed="11" result="nz"/>
<feColorMatrix in="nz" type="matrix" values="1.2 1.0 0 0 -0.4  1.2 1.0 0 0 -0.4  1.2 1.0 0 0 -0.4  0 0 0 0 1" result="nz2"/>
<feComposite in="bl" in2="nz2" operator="arithmetic" k1="1.0" k2="0.45" k3="0" k4="0"/>
</filter>
<filter id="hz" x="-30%" y="-30%" width="160%" height="160%" color-interpolation-filters="sRGB">
<feGaussianBlur in="SourceGraphic" stdDeviation="2.6" result="bl"/>
<feTurbulence type="fractalNoise" baseFrequency="0.3" numOctaves="2" seed="3" result="nz"/>
<feColorMatrix in="nz" type="matrix" values="1.2 1.0 0 0 -0.45  1.2 1.0 0 0 -0.45  1.2 1.0 0 0 -0.45  0 0 0 0 1" result="nz2"/>
<feComposite in="bl" in2="nz2" operator="arithmetic" k1="1.0" k2="0.4" k3="0" k4="0"/>
</filter>
</defs>
<text font-size="14.00" text-anchor="start" font-weight="bold" transform="translate(205.20 588.20) scale(1.000 1)" y="4.97">J</text>
<text font-size="9.00" text-anchor="middle" stroke="#000" stroke-width="0.18" transform="translate(372.00 588.40) scale(1.000 1)" y="3.19">Bel-7402</text>
<line x1="237.80" y1="594.10" x2="520.00" y2="594.10" stroke="#000" stroke-width="1.0" />
<text font-size="8.50" text-anchor="middle" stroke="#000" stroke-width="0.18" transform="translate(375.60 671.20) scale(1.000 1)" y="3.02">MHCC-97H</text>
<line x1="237.80" y1="678.00" x2="520.00" y2="678.00" stroke="#000" stroke-width="1.0" />
<text font-size="9.30" text-anchor="middle" stroke="#000" stroke-width="0.18" transform="translate(258.00 601.00) scale(1.000 1)" y="3.30">Control</text>
<text font-size="7.90" text-anchor="middle" stroke="#000" stroke-width="0.18" transform="translate(314.40 601.00) scale(1.000 1)" y="2.80">CBX8</text>
<text font-size="8.15" text-anchor="middle" stroke="#000" stroke-width="0.18" transform="translate(375.30 601.00) scale(1.000 1)" y="2.89">CBX8+siEGR1</text>
<text font-size="8.30" text-anchor="middle" stroke="#000" stroke-width="0.18" transform="translate(431.60 601.00) scale(1.000 1)" y="2.95">CBX8+miR in</text>
<text font-size="8.30" text-anchor="middle" stroke="#000" stroke-width="0.18" transform="translate(490.40 601.00) scale(1.000 1)" y="2.95">CBX8+both</text>
<text font-size="9.20" text-anchor="middle" stroke="#000" stroke-width="0.18" transform="translate(259.00 683.80) scale(1.000 1)" y="3.27">Control</text>
<text font-size="8.30" text-anchor="middle" stroke="#000" stroke-width="0.18" transform="translate(315.60 683.80) scale(1.000 1)" y="2.95">shCBX8</text>
<text font-size="8.20" text-anchor="middle" stroke="#000" stroke-width="0.18" transform="translate(374.20 683.80) scale(1.000 1)" y="2.91">shCBX8+EGR1</text>
<text font-size="8.30" text-anchor="middle" stroke="#000" stroke-width="0.18" transform="translate(431.20 683.80) scale(1.000 1)" y="2.95">shCBX8+miR</text>
<text font-size="8.30" text-anchor="middle" stroke="#000" stroke-width="0.18" transform="translate(489.60 683.80) scale(1.000 1)" y="2.95">shCBX8+both</text>
<text font-size="8.60" text-anchor="middle" fill="#2424a4" stroke="#2424a4" stroke-width="0.18" transform="translate(225.60 615.00) rotate(-90) scale(1.000 1)" y="3.05">DAPI</text>
<text font-size="8.80" text-anchor="middle" fill="#c42828" stroke="#c42828" stroke-width="0.18" transform="translate(225.60 645.80) rotate(-90) scale(1.000 1)" y="3.12">β-Catenin</text>
<text font-size="8.60" text-anchor="middle" fill="#2424a4" stroke="#2424a4" stroke-width="0.18" transform="translate(225.60 696.80) rotate(-90) scale(1.000 1)" y="3.05">DAPI</text>
<text font-size="8.80" text-anchor="middle" fill="#c42828" stroke="#c42828" stroke-width="0.18" transform="translate(225.60 727.40) rotate(-90) scale(1.000 1)" y="3.12">β-Catenin</text>
<clipPath id="cl9"><rect x="231.60" y="607.70" width="55.70" height="56.10"/></clipPath>
<rect x="231.60" y="607.70" width="55.70" height="56.10" fill="#06000a" />
<g clip-path="url(#cl9)" style="mix-blend-mode:normal">
<g filter="url(#hz)">
<ellipse cx="262.0" cy="630.0" rx="22.0" ry="20.0" fill="#3a0018" opacity="0.36"/>
<ellipse cx="247.0" cy="646.0" rx="15.0" ry="14.0" fill="#40001c" opacity="0.32"/>
</g>
<g filter="url(#nuc2)">
<ellipse cx="245.0" cy="610.8" rx="5.0" ry="3.5" fill="#1c1688" transform="rotate(0 245.0 610.8)"/>
<ellipse cx="264.0" cy="626.3" rx="6.5" ry="10.0" fill="#261eb4" transform="rotate(-10 264.0 626.3)"/>
<ellipse cx="280.8" cy="629.8" rx="4.6" ry="9.2" fill="#261eb4" transform="rotate(5 280.8 629.8)"/>
<ellipse cx="245.4" cy="649.0" rx="10.0" ry="9.0" fill="#2a22e4" transform="rotate(15 245.4 649.0)"/>
</g>
<g filter="url(#redf)" fill="none" stroke-linecap="round" style="mix-blend-mode:screen">
<path d="M257 622 Q256 630 260 638" stroke="#e0102c" stroke-width="1.50" opacity="0.38"/>
<path d="M276.2 620 Q274 630 276.5 639" stroke="#e0102c" stroke-width="1.35" opacity="0.5"/>
<path d="M238 640 Q244 637 252 642" stroke="#e0102c" stroke-width="1.65" opacity="0.42"/>
<path d="M268 632 L271 640" stroke="#7a0018" stroke-width="1.35" opacity="0.7"/>
</g>
<rect x="270.70" y="661.20" width="13.40" height="1.20" fill="#fff" />
<text font-size="5.15" text-anchor="middle" fill="#fff" stroke="#fff" stroke-width="0.25" transform="translate(277.70 657.80) scale(0.952 1)" y="1.83">20 μm</text>
</g>
<clipPath id="cl10"><rect x="289.20" y="607.70" width="55.70" height="56.10"/></clipPath>
<rect x="289.20" y="607.70" width="55.70" height="56.10" fill="#06000a" />
<g clip-path="url(#cl10)" style="mix-blend-mode:normal">
<g filter="url(#hz)">
<ellipse cx="304.0" cy="620.0" rx="15.0" ry="14.0" fill="#48002c" opacity="0.32"/>
<ellipse cx="329.0" cy="651.0" rx="14.0" ry="12.0" fill="#38002c" opacity="0.27"/>
</g>
<g filter="url(#nuc2)">
<ellipse cx="303.7" cy="616.5" rx="10.5" ry="9.2" fill="#2c24f0" transform="rotate(-15 303.7 616.5)"/>
<ellipse cx="330.3" cy="650.6" rx="10.3" ry="8.3" fill="#2c24f0" transform="rotate(5 330.3 650.6)"/>
</g>
<g filter="url(#redf)" fill="none" stroke-linecap="round" style="mix-blend-mode:screen">
<path d="M295 618 Q297 626 305 627" stroke="#d030b0" stroke-width="1.65" opacity="0.8"/>
<path d="M307 622 Q311 624 314 620" stroke="#e0102c" stroke-width="1.50" opacity="0.75"/>
<path d="M321 652 Q324 658 333 659" stroke="#d030b0" stroke-width="1.35" opacity="0.8"/>
<path d="M299 640 L301.5 646" stroke="#e0102c" stroke-width="1.20" opacity="0.7"/>
<circle cx="300.3" cy="644.2" r="1.0" fill="#e0102c" stroke="none"/>
<circle cx="297.5" cy="635.0" r="0.8" fill="#e0102c" stroke="none"/>
<circle cx="312.0" cy="630.0" r="0.8" fill="#e0102c" stroke="none"/>
</g>
<rect x="328.30" y="661.20" width="13.40" height="1.20" fill="#fff" />
<text font-size="5.15" text-anchor="middle" fill="#fff" stroke="#fff" stroke-width="0.25" transform="translate(335.30 657.80) scale(0.952 1)" y="1.83">20 μm</text>
</g>
<clipPath id="cl11"><rect x="346.80" y="607.70" width="55.70" height="56.10"/></clipPath>
<rect x="346.80" y="607.70" width="55.70" height="56.10" fill="#06000a" />
<g clip-path="url(#cl11)" style="mix-blend-mode:normal">
<g filter="url(#hz)">
<ellipse cx="372.0" cy="635.0" rx="17.0" ry="17.0" fill="#3a0024" opacity="0.32"/>
</g>
<g filter="url(#nuc2)">
<ellipse cx="368.8" cy="627.5" rx="7.6" ry="6.6" fill="#2c24f0" transform="rotate(25 368.8 627.5)"/>
<ellipse cx="379.8" cy="644.2" rx="9.8" ry="10.6" fill="#2c24f0" transform="rotate(0 379.8 644.2)"/>
</g>
<g filter="url(#redf)" fill="none" stroke-linecap="round" style="mix-blend-mode:screen">
<path d="M354.4 622.3 Q360 627 367 634" stroke="#e0102c" stroke-width="1.50" opacity="0.9"/>
<path d="M359 621 Q366 619 374 621" stroke="#d030b0" stroke-width="1.05" opacity="0.6"/>
<path d="M367 634 Q368 640 371 646" stroke="#d030b0" stroke-width="1.12" opacity="0.7"/>
<path d="M388 652 Q385 658 379 660" stroke="#d030b0" stroke-width="0.98" opacity="0.6"/>
</g>
<rect x="385.90" y="661.20" width="13.40" height="1.20" fill="#fff" />
<text font-size="5.15" text-anchor="middle" fill="#fff" stroke="#fff" stroke-width="0.25" transform="translate(392.90 657.80) scale(0.952 1)" y="1.83">20 μm</text>
</g>
<clipPath id="cl12"><rect x="404.40" y="607.70" width="55.70" height="56.10"/></clipPath>
<rect x="404.40" y="607.70" width="55.70" height="56.10" fill="#06000a" />
<g clip-path="url(#cl12)" style="mix-blend-mode:normal">
<g filter="url(#hz)">
<ellipse cx="429.0" cy="641.0" rx="18.0" ry="14.0" fill="#3a0024" opacity="0.32"/>
</g>
<g filter="url(#nuc2)">
<ellipse cx="426.2" cy="616.5" rx="7.6" ry="7.0" fill="#2c24f0" transform="rotate(0 426.2 616.5)"/>
<ellipse cx="429.7" cy="643.0" rx="15.0" ry="7.0" fill="#2a20c0" transform="rotate(39 429.7 643.0)"/>
</g>
<g filter="url(#redf)" fill="none" stroke-linecap="round" style="mix-blend-mode:screen">
<path d="M419.5 620 Q423 624.5 430 624" stroke="#d030b0" stroke-width="1.50" opacity="0.9"/>
<path d="M416 631 Q420 640 430 649 Q436 655 441 657" stroke="#d030b0" stroke-width="1.12" opacity="0.8"/>
<path d="M423 630 Q436 636 445 652" stroke="#d030b0" stroke-width="1.05" opacity="0.7"/>
<path d="M446 652 L450 658" stroke="#e0102c" stroke-width="0.90" opacity="0.7"/>
</g>
<rect x="443.50" y="661.20" width="13.40" height="1.20" fill="#fff" />
<text font-size="5.15" text-anchor="middle" fill="#fff" stroke="#fff" stroke-width="0.25" transform="translate(450.50 657.80) scale(0.952 1)" y="1.83">20 μm</text>
</g>
<clipPath id="cl13"><rect x="462.00" y="607.70" width="55.70" height="56.10"/></clipPath>
<rect x="462.00" y="607.70" width="55.70" height="56.10" fill="#06000a" />
<g clip-path="url(#cl13)" style="mix-blend-mode:normal">
<g filter="url(#hz)">
<ellipse cx="480.0" cy="627.0" rx="19.0" ry="15.0" fill="#6a0014" opacity="0.41"/>
<ellipse cx="478.0" cy="647.0" rx="16.0" ry="9.0" fill="#50000c" opacity="0.36"/>
<ellipse cx="506.0" cy="646.0" rx="12.0" ry="12.0" fill="#300018" opacity="0.27"/>
</g>
<g filter="url(#nuc2)">
<ellipse cx="478.5" cy="628.7" rx="10.5" ry="6.3" fill="#2a20c0" transform="rotate(-8 478.5 628.7)"/>
<ellipse cx="504.4" cy="646.5" rx="8.8" ry="8.0" fill="#261eb8" transform="rotate(0 504.4 646.5)"/>
<ellipse cx="471.5" cy="658.5" rx="11.0" ry="5.5" fill="#2c24f0" transform="rotate(0 471.5 658.5)"/>
</g>
<g filter="url(#redf)" fill="none" stroke-linecap="round" style="mix-blend-mode:screen">
<path d="M466 630 Q466 618 480 617 Q493 617 495 626" stroke="#900c1c" stroke-width="2.55" opacity="0.6"/>
<path d="M467 636 Q476 641 491 637" stroke="#900c1c" stroke-width="2.25" opacity="0.55"/>
<path d="M512 636 Q515 646 512 656" stroke="#7a0018" stroke-width="1.20" opacity="0.8"/>
<path d="M470 650 Q478 647 488 651" stroke="#7a0018" stroke-width="1.80" opacity="0.7"/>
</g>
<rect x="501.10" y="661.20" width="13.40" height="1.20" fill="#fff" />
<text font-size="5.15" text-anchor="middle" fill="#fff" stroke="#fff" stroke-width="0.25" transform="translate(508.10 657.80) scale(0.952 1)" y="1.83">20 μm</text>
</g>
<clipPath id="cl14"><rect x="231.60" y="689.90" width="55.70" height="56.00"/></clipPath>
<rect x="231.60" y="689.90" width="55.70" height="56.00" fill="#06000a" />
<g clip-path="url(#cl14)" style="mix-blend-mode:normal">
<g filter="url(#hz)">
<ellipse cx="252.0" cy="719.0" rx="19.0" ry="21.0" fill="#38001c" opacity="0.42"/>
</g>
<g filter="url(#nuc)">
<ellipse cx="247.3" cy="709.0" rx="8.8" ry="10.2" fill="#2c24f0" transform="rotate(0 247.3 709.0)"/>
<ellipse cx="256.5" cy="727.4" rx="13.2" ry="11.2" fill="#2c24f0" transform="rotate(0 256.5 727.4)"/>
<ellipse cx="280.0" cy="696.0" rx="10.0" ry="3.4" fill="#3828c8" transform="rotate(34 280.0 696.0)"/>
</g>
<g filter="url(#redf)" fill="none" stroke-linecap="round" style="mix-blend-mode:screen">
<path d="M239 716 Q241 722 247 721" stroke="#e0102c" stroke-width="1.44" opacity="0.8"/>
<path d="M250 718 Q258 716 262 712" stroke="#d030b0" stroke-width="1.12" opacity="0.6"/>
<path d="M266 730 L269 735" stroke="#e0102c" stroke-width="1.28" opacity="0.8"/>
<path d="M272 690.5 L287 700" stroke="#d030b0" stroke-width="0.96" opacity="0.7"/>
<circle cx="251.3" cy="693.3" r="1.0" fill="#e04030" stroke="none"/>
<circle cx="270.4" cy="699.0" r="1.1" fill="#e04030" stroke="none"/>
<circle cx="261.7" cy="709.0" r="1.1" fill="#e03040" stroke="none"/>
<circle cx="270.4" cy="714.0" r="0.9" fill="#e0102c" stroke="none"/>
<circle cx="258.0" cy="705.0" r="0.7" fill="#e0102c" stroke="none"/>
<circle cx="262.0" cy="722.0" r="0.8" fill="#d030b0" stroke="none"/>
<circle cx="257.0" cy="718.0" r="0.8" fill="#d030b0" stroke="none"/>
<circle cx="276.0" cy="722.0" r="0.7" fill="#7a0018" stroke="none"/>
<circle cx="268.0" cy="733.0" r="1.0" fill="#e0102c" stroke="none"/>
</g>
<rect x="270.70" y="743.30" width="13.40" height="1.20" fill="#fff" />
<text font-size="5.15" text-anchor="middle" fill="#fff" stroke="#fff" stroke-width="0.25" transform="translate(277.70 739.90) scale(0.952 1)" y="1.83">20 μm</text>
</g>
<clipPath id="cl15"><rect x="289.20" y="689.90" width="55.70" height="56.00"/></clipPath>
<rect x="289.20" y="689.90" width="55.70" height="56.00" fill="#06000a" />
<g clip-path="url(#cl15)" style="mix-blend-mode:normal">
<g filter="url(#hz)">
<ellipse cx="302.0" cy="717.0" rx="13.0" ry="12.0" fill="#38001c" opacity="0.35"/>
<ellipse cx="327.0" cy="731.0" rx="14.0" ry="12.0" fill="#38001c" opacity="0.35"/>
</g>
<g filter="url(#nuc)">
<ellipse cx="301.4" cy="717.6" rx="9.8" ry="8.8" fill="#2c24f0" transform="rotate(0 301.4 717.6)"/>
<ellipse cx="327.4" cy="732.0" rx="10.6" ry="9.0" fill="#2c24f0" transform="rotate(20 327.4 732.0)"/>
<ellipse cx="299.7" cy="741.6" rx="9.0" ry="5.0" fill="#2c24f0" transform="rotate(0 299.7 741.6)"/>
</g>
<g filter="url(#redf)" fill="none" stroke-linecap="round" style="mix-blend-mode:screen">
<path d="M290.5 708 Q299 703 311 709" stroke="#e0102c" stroke-width="1.28" opacity="0.9"/>
<path d="M293 712 Q291 720 296 727" stroke="#d030b0" stroke-width="1.04" opacity="0.7"/>
<path d="M316.4 734 Q315 724 322 721 Q331 719 337.5 729" stroke="#e82050" stroke-width="1.52" opacity="0.95"/>
<path d="M316.5 734 Q318 740 322 743" stroke="#e0102c" stroke-width="1.12" opacity="0.8"/>
<circle cx="315.5" cy="702.0" r="0.8" fill="#7a0018" stroke="none"/>
<circle cx="341.2" cy="726.8" r="1.3" fill="#e03020" stroke="none"/>
<circle cx="338.0" cy="737.0" r="0.8" fill="#e0102c" stroke="none"/>
</g>
<rect x="328.30" y="743.30" width="13.40" height="1.20" fill="#fff" />
<text font-size="5.15" text-anchor="middle" fill="#fff" stroke="#fff" stroke-width="0.25" transform="translate(335.30 739.90) scale(0.952 1)" y="1.83">20 μm</text>
</g>
<clipPath id="cl16"><rect x="346.80" y="689.90" width="55.70" height="56.00"/></clipPath>
<rect x="346.80" y="689.90" width="55.70" height="56.00" fill="#06000a" />
<g clip-path="url(#cl16)" style="mix-blend-mode:normal">
<g filter="url(#hz)">
<ellipse cx="370.0" cy="716.0" rx="21.0" ry="23.0" fill="#38001c" opacity="0.42"/>
</g>
<g filter="url(#nuc)">
<ellipse cx="372.8" cy="703.2" rx="9.0" ry="8.5" fill="#2c24f0" transform="rotate(0 372.8 703.2)"/>
<ellipse cx="355.0" cy="717.6" rx="9.0" ry="7.0" fill="#2c24f0" transform="rotate(0 355.0 717.6)"/>
<ellipse cx="379.8" cy="719.3" rx="8.0" ry="7.0" fill="#2c24f0" transform="rotate(0 379.8 719.3)"/>
<ellipse cx="368.8" cy="731.4" rx="9.0" ry="10.0" fill="#2c24f0" transform="rotate(0 368.8 731.4)"/>
<ellipse cx="351.0" cy="744.0" rx="6.0" ry="4.0" fill="#2c24f0" transform="rotate(0 351.0 744.0)"/>
</g>
<g filter="url(#redf)" fill="none" stroke-linecap="round" style="mix-blend-mode:screen">
<path d="M361 708 Q360 699 367 694" stroke="#e0102c" stroke-width="1.44" opacity="0.8"/>
<path d="M387 714 Q392 716 396 720" stroke="#e0102c" stroke-width="1.92" opacity="0.85"/>
<path d="M384 708 Q388 712 390 716" stroke="#d030b0" stroke-width="1.12" opacity="0.7"/>
<path d="M360 726 Q357 730 359 736" stroke="#e0102c" stroke-width="1.12" opacity="0.7"/>
<path d="M370 742 L375 744" stroke="#e0102c" stroke-width="1.60" opacity="0.8"/>
<path d="M366 712 Q372 716 376 712" stroke="#d030b0" stroke-width="0.96" opacity="0.6"/>
</g>
<rect x="385.90" y="743.30" width="13.40" height="1.20" fill="#fff" />
<text font-size="5.15" text-anchor="middle" fill="#fff" stroke="#fff" stroke-width="0.25" transform="translate(392.90 739.90) scale(0.952 1)" y="1.83">20 μm</text>
</g>
<clipPath id="cl17"><rect x="404.40" y="689.90" width="55.70" height="56.00"/></clipPath>
<rect x="404.40" y="689.90" width="55.70" height="56.00" fill="#06000a" />
<g clip-path="url(#cl17)" style="mix-blend-mode:normal">
<g filter="url(#hz)">
<ellipse cx="430.0" cy="722.0" rx="21.0" ry="17.0" fill="#30001c" opacity="0.35"/>
</g>
<g filter="url(#nuc)">
<ellipse cx="447.6" cy="702.0" rx="10.8" ry="7.4" fill="#2c24f0" transform="rotate(0 447.6 702.0)"/>
<ellipse cx="436.6" cy="722.8" rx="8.0" ry="10.4" fill="#2c24f0" transform="rotate(0 436.6 722.8)"/>
<ellipse cx="421.0" cy="728.5" rx="9.8" ry="11.8" fill="#2c24f0" transform="rotate(0 421.0 728.5)"/>
<ellipse cx="450.5" cy="746.0" rx="8.0" ry="3.0" fill="#2c24f0" transform="rotate(0 450.5 746.0)"/>
</g>
<g filter="url(#redf)" fill="none" stroke-linecap="round" style="mix-blend-mode:screen">
<path d="M421.6 698.5 Q413 710 408.5 725" stroke="#a01030" stroke-width="1.12" opacity="0.9"/>
<path d="M446 716 Q449 722 447 728" stroke="#7a0018" stroke-width="0.96" opacity="0.9"/>
<path d="M414 738 Q418 742 424 742" stroke="#d030b0" stroke-width="0.96" opacity="0.6"/>
</g>
<rect x="443.50" y="743.30" width="13.40" height="1.20" fill="#fff" />
<text font-size="5.15" text-anchor="middle" fill="#fff" stroke="#fff" stroke-width="0.25" transform="translate(450.50 739.90) scale(0.952 1)" y="1.83">20 μm</text>
</g>
<clipPath id="cl18"><rect x="462.00" y="689.90" width="55.70" height="56.00"/></clipPath>
<rect x="462.00" y="689.90" width="55.70" height="56.00" fill="#06000a" />
<g clip-path="url(#cl18)" style="mix-blend-mode:normal">
<g filter="url(#hz)">
<ellipse cx="487.0" cy="716.0" rx="25.0" ry="21.0" fill="#38001c" opacity="0.39"/>
</g>
<g filter="url(#nuc)">
<ellipse cx="502.0" cy="699.7" rx="9.0" ry="8.8" fill="#2c24f0" transform="rotate(0 502.0 699.7)"/>
<ellipse cx="516.0" cy="696.0" rx="4.0" ry="6.0" fill="#2c24f0" transform="rotate(0 516.0 696.0)"/>
<ellipse cx="472.7" cy="707.8" rx="9.5" ry="6.8" fill="#2c24f0" transform="rotate(30 472.7 707.8)"/>
<ellipse cx="490.6" cy="719.3" rx="8.8" ry="9.4" fill="#2c24f0" transform="rotate(15 490.6 719.3)"/>
<ellipse cx="472.7" cy="735.5" rx="9.4" ry="6.0" fill="#2c24f0" transform="rotate(0 472.7 735.5)"/>
</g>
<g filter="url(#redf)" fill="none" stroke-linecap="round" style="mix-blend-mode:screen">
<path d="M494 706 Q491 696 497 692 Q504 689 510 693" stroke="#e02060" stroke-width="1.36" opacity="0.9"/>
<path d="M482 714 Q486 711 489 708" stroke="#e0102c" stroke-width="1.12" opacity="0.7"/>
<path d="M496 713 Q501 715 503 720" stroke="#d030b0" stroke-width="1.20" opacity="0.8"/>
<path d="M463.5 733 Q466 741 474 742.5 Q480 742 483 739" stroke="#e82050" stroke-width="1.60" opacity="0.95"/>
<path d="M466 730 Q472 727 480 730" stroke="#d030b0" stroke-width="1.12" opacity="0.8"/>
<circle cx="484.2" cy="740.6" r="1.7" fill="#f01830" stroke="none"/>
</g>
<rect x="501.10" y="743.30" width="13.40" height="1.20" fill="#fff" />
<text font-size="5.15" text-anchor="middle" fill="#fff" stroke="#fff" stroke-width="0.25" transform="translate(508.10 739.90) scale(0.952 1)" y="1.83">20 μm</text>
</g>
</svg></body></html>
